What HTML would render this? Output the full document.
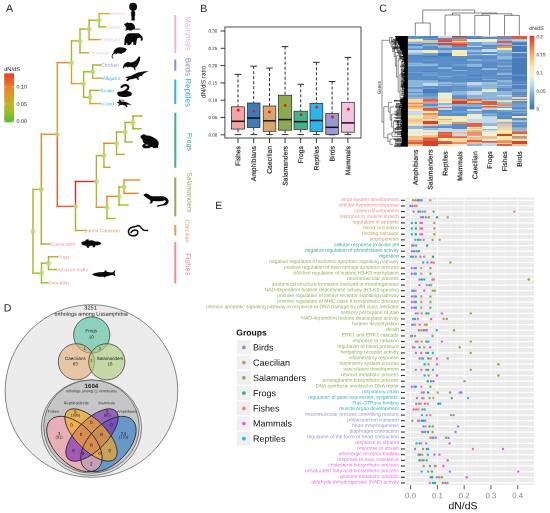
<!DOCTYPE html>
<html lang="en"><head><meta charset="utf-8"><title>Figure</title>
<style>
html,body{margin:0;padding:0;background:#fff;}
svg{display:block;font-family:"Liberation Sans", Arial, sans-serif;text-rendering:geometricPrecision;}
</style></head><body>
<svg width="550" height="513" viewBox="0 0 550 513">
<rect x="0" y="0" width="550" height="513" fill="#ffffff"/>
<g id="panelA">
<text x="6.00" y="11.70" font-size="10.6" fill="#222" transform="rotate(0.03 6.00 11.70)">A</text>
<path d="M99.10 13.60L109.10 13.60" stroke="#c4b224" stroke-width="1.4" stroke-linecap="square" fill="none"/>
<path d="M99.10 26.90L105.10 26.90" stroke="#8fc026" stroke-width="1.4" stroke-linecap="square" fill="none"/>
<path d="M99.10 13.60L99.10 20.20" stroke="#c4b224" stroke-width="1.4" stroke-linecap="square" fill="none"/>
<path d="M99.10 20.20L99.10 26.90" stroke="#8fc026" stroke-width="1.4" stroke-linecap="square" fill="none"/>
<path d="M89.10 20.20L99.10 20.20" stroke="#a3b626" stroke-width="1.4" stroke-linecap="square" fill="none"/>
<path d="M89.10 20.20L89.10 29.10" stroke="#a3b626" stroke-width="1.4" stroke-linecap="square" fill="none"/>
<path d="M89.10 29.10L89.10 39.60" stroke="#d6a024" stroke-width="1.4" stroke-linecap="square" fill="none"/>
<path d="M89.10 39.60L100.00 39.60" stroke="#d6a024" stroke-width="1.4" stroke-linecap="square" fill="none"/>
<path d="M80.00 29.10L89.10 29.10" stroke="#a3b626" stroke-width="1.4" stroke-linecap="square" fill="none"/>
<path d="M80.00 29.10L80.00 52.70" stroke="#a3b626" stroke-width="1.4" stroke-linecap="square" fill="none"/>
<path d="M80.00 52.70L88.20 52.70" stroke="#a3b626" stroke-width="1.4" stroke-linecap="square" fill="none"/>
<path d="M71.50 40.90L80.00 40.90" stroke="#a3b626" stroke-width="1.4" stroke-linecap="square" fill="none"/>
<path d="M71.50 40.90L71.50 62.70" stroke="#a3b626" stroke-width="1.4" stroke-linecap="square" fill="none"/>
<path d="M71.50 62.70L71.50 83.60" stroke="#d6a024" stroke-width="1.4" stroke-linecap="square" fill="none"/>
<path d="M57.30 62.70L71.50 62.70" stroke="#e98a26" stroke-width="1.4" stroke-linecap="square" fill="none"/>
<path d="M57.30 62.70L57.30 134.30" stroke="#de9a27" stroke-width="1.4" stroke-linecap="square" fill="none"/>
<path d="M71.50 83.60L83.60 83.60" stroke="#d6a024" stroke-width="1.4" stroke-linecap="square" fill="none"/>
<path d="M83.60 71.80L83.60 97.30" stroke="#a3b626" stroke-width="1.4" stroke-linecap="square" fill="none"/>
<path d="M83.60 71.80L92.70 71.80" stroke="#a3b626" stroke-width="1.4" stroke-linecap="square" fill="none"/>
<path d="M92.70 65.00L92.70 71.80" stroke="#a3b626" stroke-width="1.4" stroke-linecap="square" fill="none"/>
<path d="M92.70 71.80L92.70 78.20" stroke="#c4b224" stroke-width="1.4" stroke-linecap="square" fill="none"/>
<path d="M92.70 65.00L100.70 65.00" stroke="#a3b626" stroke-width="1.4" stroke-linecap="square" fill="none"/>
<path d="M92.70 78.20L102.00 78.20" stroke="#c4b224" stroke-width="1.4" stroke-linecap="square" fill="none"/>
<path d="M83.60 97.30L90.00 97.30" stroke="#a3b626" stroke-width="1.4" stroke-linecap="square" fill="none"/>
<path d="M90.00 90.40L90.00 97.30" stroke="#a3b626" stroke-width="1.4" stroke-linecap="square" fill="none"/>
<path d="M90.00 97.30L90.00 103.60" stroke="#c4b224" stroke-width="1.4" stroke-linecap="square" fill="none"/>
<path d="M90.00 90.40L99.60 90.40" stroke="#a3b626" stroke-width="1.4" stroke-linecap="square" fill="none"/>
<path d="M90.00 103.60L100.00 103.60" stroke="#c4b224" stroke-width="1.4" stroke-linecap="square" fill="none"/>
<path d="M41.30 134.30L57.30 134.30" stroke="#e98a26" stroke-width="1.4" stroke-linecap="square" fill="none"/>
<path d="M57.30 134.30L57.30 206.40" stroke="#f05c20" stroke-width="1.4" stroke-linecap="square" fill="none"/>
<path d="M57.30 206.40L75.50 206.40" stroke="#f05c20" stroke-width="1.4" stroke-linecap="square" fill="none"/>
<path d="M75.50 181.50L75.50 206.40" stroke="#f02420" stroke-width="1.4" stroke-linecap="square" fill="none"/>
<path d="M75.50 181.50L96.40 181.50" stroke="#f02420" stroke-width="1.4" stroke-linecap="square" fill="none"/>
<path d="M75.50 206.40L75.50 230.50" stroke="#a3b626" stroke-width="1.4" stroke-linecap="square" fill="none"/>
<path d="M75.50 230.50L84.00 230.50" stroke="#a3b626" stroke-width="1.4" stroke-linecap="square" fill="none"/>
<path d="M96.40 155.60L96.40 181.50" stroke="#a3b626" stroke-width="1.4" stroke-linecap="square" fill="none"/>
<path d="M96.40 181.50L96.40 207.30" stroke="#c4b224" stroke-width="1.4" stroke-linecap="square" fill="none"/>
<path d="M96.40 155.60L104.00 155.60" stroke="#a3b626" stroke-width="1.4" stroke-linecap="square" fill="none"/>
<path d="M104.00 143.30L104.00 155.60" stroke="#d6a024" stroke-width="1.4" stroke-linecap="square" fill="none"/>
<path d="M104.00 155.60L104.00 167.40" stroke="#a3b626" stroke-width="1.4" stroke-linecap="square" fill="none"/>
<path d="M104.00 167.40L110.00 167.40" stroke="#a3b626" stroke-width="1.4" stroke-linecap="square" fill="none"/>
<path d="M104.00 143.30L116.50 143.30" stroke="#e98a26" stroke-width="1.4" stroke-linecap="square" fill="none"/>
<path d="M116.50 132.00L116.50 154.40" stroke="#a3b626" stroke-width="1.4" stroke-linecap="square" fill="none"/>
<path d="M116.50 154.40L124.00 154.40" stroke="#a3b626" stroke-width="1.4" stroke-linecap="square" fill="none"/>
<path d="M116.50 132.00L125.20 132.00" stroke="#a3b626" stroke-width="1.4" stroke-linecap="square" fill="none"/>
<path d="M125.20 122.50L125.20 142.00" stroke="#a3b626" stroke-width="1.4" stroke-linecap="square" fill="none"/>
<path d="M125.20 142.00L132.00 142.00" stroke="#a3b626" stroke-width="1.4" stroke-linecap="square" fill="none"/>
<path d="M125.20 122.50L133.00 122.50" stroke="#a3b626" stroke-width="1.4" stroke-linecap="square" fill="none"/>
<path d="M133.00 116.00L133.00 128.80" stroke="#a3b626" stroke-width="1.4" stroke-linecap="square" fill="none"/>
<path d="M133.00 116.00L142.00 116.00" stroke="#a3b626" stroke-width="1.4" stroke-linecap="square" fill="none"/>
<path d="M133.00 128.80L141.00 128.80" stroke="#a3b626" stroke-width="1.4" stroke-linecap="square" fill="none"/>
<path d="M96.40 207.30L107.00 207.30" stroke="#e98a26" stroke-width="1.4" stroke-linecap="square" fill="none"/>
<path d="M107.00 196.40L107.00 207.30" stroke="#e98a26" stroke-width="1.4" stroke-linecap="square" fill="none"/>
<path d="M107.00 207.30L107.00 218.50" stroke="#a3b626" stroke-width="1.4" stroke-linecap="square" fill="none"/>
<path d="M107.00 218.50L115.00 218.50" stroke="#a3b626" stroke-width="1.4" stroke-linecap="square" fill="none"/>
<path d="M107.00 196.40L119.00 196.40" stroke="#e98a26" stroke-width="1.4" stroke-linecap="square" fill="none"/>
<path d="M119.00 187.00L119.00 205.00" stroke="#a3b626" stroke-width="1.4" stroke-linecap="square" fill="none"/>
<path d="M119.00 205.00L128.00 205.00" stroke="#a3b626" stroke-width="1.4" stroke-linecap="square" fill="none"/>
<path d="M119.00 187.00L124.00 187.00" stroke="#a3b626" stroke-width="1.4" stroke-linecap="square" fill="none"/>
<path d="M124.00 180.00L124.00 193.30" stroke="#e98a26" stroke-width="1.4" stroke-linecap="square" fill="none"/>
<path d="M124.00 180.00L139.50 180.00" stroke="#e98a26" stroke-width="1.4" stroke-linecap="square" fill="none"/>
<path d="M124.00 193.30L138.00 193.30" stroke="#e98a26" stroke-width="1.4" stroke-linecap="square" fill="none"/>
<path d="M41.30 134.30L41.30 189.40" stroke="#e98a26" stroke-width="1.4" stroke-linecap="square" fill="none"/>
<path d="M41.30 189.40L41.30 244.00" stroke="#a3b626" stroke-width="1.4" stroke-linecap="square" fill="none"/>
<path d="M41.30 244.00L50.00 244.00" stroke="#a3b626" stroke-width="1.4" stroke-linecap="square" fill="none"/>
<path d="M33.00 189.40L41.30 189.40" stroke="#a3b626" stroke-width="1.4" stroke-linecap="square" fill="none"/>
<path d="M33.00 189.40L33.00 273.20" stroke="#a3b626" stroke-width="1.4" stroke-linecap="square" fill="none"/>
<path d="M33.00 273.20L41.50 273.20" stroke="#a3b626" stroke-width="1.4" stroke-linecap="square" fill="none"/>
<path d="M41.50 263.20L41.50 282.80" stroke="#8fc026" stroke-width="1.4" stroke-linecap="square" fill="none"/>
<path d="M41.50 282.80L48.00 282.80" stroke="#8fc026" stroke-width="1.4" stroke-linecap="square" fill="none"/>
<path d="M41.50 263.20L48.50 263.20" stroke="#8fc026" stroke-width="1.4" stroke-linecap="square" fill="none"/>
<path d="M48.50 256.80L48.50 269.50" stroke="#a3b626" stroke-width="1.4" stroke-linecap="square" fill="none"/>
<path d="M48.50 256.80L57.50 256.80" stroke="#a3b626" stroke-width="1.4" stroke-linecap="square" fill="none"/>
<path d="M48.50 269.50L56.50 269.50" stroke="#8fc026" stroke-width="1.4" stroke-linecap="square" fill="none"/>
<circle cx="99.10" cy="20.20" r="2.60" fill="#b9dd7c" fill-opacity="0.75"/>
<circle cx="89.10" cy="29.10" r="2.60" fill="#b9dd7c" fill-opacity="0.75"/>
<circle cx="80.00" cy="40.90" r="2.60" fill="#b9dd7c" fill-opacity="0.75"/>
<circle cx="71.50" cy="62.70" r="2.60" fill="#b9dd7c" fill-opacity="0.75"/>
<circle cx="92.70" cy="71.80" r="2.60" fill="#b9dd7c" fill-opacity="0.75"/>
<circle cx="83.60" cy="83.60" r="2.60" fill="#b9dd7c" fill-opacity="0.75"/>
<circle cx="90.00" cy="97.30" r="2.60" fill="#b9dd7c" fill-opacity="0.75"/>
<circle cx="57.30" cy="134.30" r="2.60" fill="#b9dd7c" fill-opacity="0.75"/>
<circle cx="133.00" cy="122.50" r="2.60" fill="#b9dd7c" fill-opacity="0.75"/>
<circle cx="125.20" cy="132.00" r="2.60" fill="#b9dd7c" fill-opacity="0.75"/>
<circle cx="116.50" cy="143.30" r="2.60" fill="#b9dd7c" fill-opacity="0.75"/>
<circle cx="104.00" cy="155.60" r="2.60" fill="#b9dd7c" fill-opacity="0.75"/>
<circle cx="96.40" cy="181.50" r="2.60" fill="#b9dd7c" fill-opacity="0.75"/>
<circle cx="124.00" cy="187.00" r="2.60" fill="#b9dd7c" fill-opacity="0.75"/>
<circle cx="119.00" cy="196.40" r="2.60" fill="#b9dd7c" fill-opacity="0.75"/>
<circle cx="107.00" cy="207.30" r="2.60" fill="#b9dd7c" fill-opacity="0.75"/>
<circle cx="75.50" cy="206.40" r="2.60" fill="#b9dd7c" fill-opacity="0.75"/>
<circle cx="41.30" cy="189.40" r="2.60" fill="#b9dd7c" fill-opacity="0.75"/>
<circle cx="33.00" cy="231.30" r="2.60" fill="#b9dd7c" fill-opacity="0.75"/>
<circle cx="41.50" cy="273.20" r="2.60" fill="#b9dd7c" fill-opacity="0.75"/>
<circle cx="48.50" cy="263.20" r="2.60" fill="#b9dd7c" fill-opacity="0.75"/>
<text x="110.20" y="15.35" font-size="4.9" fill="#ebcbe8" transform="rotate(0.03 110.20 15.35)">Human</text>
<text x="105.80" y="28.65" font-size="4.9" fill="#ebcbe8" transform="rotate(0.03 105.80 28.65)">Mouse</text>
<text x="100.70" y="41.35" font-size="4.9" fill="#ebcbe8" transform="rotate(0.03 100.70 41.35)">Elephant</text>
<text x="88.90" y="54.45" font-size="4.9" fill="#ebcbe8" transform="rotate(0.03 88.90 54.45)">Opossum</text>
<text x="101.20" y="66.75" font-size="4.9" fill="#8d8fd0" transform="rotate(0.03 101.20 66.75)">Chicken</text>
<text x="102.60" y="79.95" font-size="4.9" fill="#3fb4d6" transform="rotate(0.03 102.60 79.95)">Alligator</text>
<text x="100.20" y="92.15" font-size="4.9" fill="#3fb4d6" transform="rotate(0.03 100.20 92.15)">Snake</text>
<text x="100.60" y="105.35" font-size="4.9" fill="#3fb4d6" transform="rotate(0.03 100.60 105.35)">Lizard</text>
<text x="84.40" y="232.25" font-size="4.9" fill="#c9a070" transform="rotate(0.03 84.40 232.25)">Banna Caecilian</text>
<text x="50.60" y="245.75" font-size="4.9" fill="#ee9398" transform="rotate(0.03 50.60 245.75)">Coelacanth</text>
<text x="58.20" y="258.55" font-size="4.9" fill="#ee9398" transform="rotate(0.03 58.20 258.55)">Fugu</text>
<text x="57.20" y="271.25" font-size="4.9" fill="#ee9398" transform="rotate(0.03 57.20 271.25)">Amazon molly</text>
<text x="48.60" y="284.55" font-size="4.9" fill="#ee9398" transform="rotate(0.03 48.60 284.55)">Zebrafish</text>
<defs><linearGradient id="gA" x1="0" y1="0" x2="0" y2="1"><stop offset="0" stop-color="#ef3a22"/><stop offset="0.3" stop-color="#e8862a"/><stop offset="0.62" stop-color="#c2b224"/><stop offset="0.82" stop-color="#8fc02a"/><stop offset="1" stop-color="#5cb531"/></linearGradient></defs>
<text x="4.20" y="70.90" font-size="5.7" fill="#222" transform="rotate(0.03 4.20 70.90)">dN/dS</text>
<rect x="4.20" y="73.40" width="9.80" height="48.90" fill="url(#gA)"/>
<line x1="4.20" y1="86.60" x2="6.10" y2="86.60" stroke="#ffffff" stroke-width="0.5"/>
<line x1="12.10" y1="86.60" x2="14.00" y2="86.60" stroke="#ffffff" stroke-width="0.5"/>
<text x="16.60" y="88.50" font-size="5.4" fill="#222" transform="rotate(0.03 16.60 88.50)">0.10</text>
<line x1="4.20" y1="104.00" x2="6.10" y2="104.00" stroke="#ffffff" stroke-width="0.5"/>
<line x1="12.10" y1="104.00" x2="14.00" y2="104.00" stroke="#ffffff" stroke-width="0.5"/>
<text x="16.60" y="105.90" font-size="5.4" fill="#222" transform="rotate(0.03 16.60 105.90)">0.05</text>
<line x1="4.20" y1="121.00" x2="6.10" y2="121.00" stroke="#ffffff" stroke-width="0.5"/>
<line x1="12.10" y1="121.00" x2="14.00" y2="121.00" stroke="#ffffff" stroke-width="0.5"/>
<text x="16.60" y="122.90" font-size="5.4" fill="#222" transform="rotate(0.03 16.60 122.90)">0.00</text>
<line x1="175.30" y1="15.00" x2="175.30" y2="53.00" stroke="#e6b9dc" stroke-width="2.0"/>
<text x="185.40" y="16.20" font-size="8.0" fill="#e6b9dc" transform="rotate(90.03 185.40 16.20)">Mammals</text>
<line x1="175.30" y1="59.50" x2="175.30" y2="70.80" stroke="#8a8ccf" stroke-width="2.0"/>
<text x="185.40" y="57.80" font-size="8.0" fill="#8a8ccf" transform="rotate(90.03 185.40 57.80)">Birds</text>
<line x1="175.30" y1="79.50" x2="175.30" y2="104.00" stroke="#33b1d3" stroke-width="2.0"/>
<text x="185.40" y="78.20" font-size="8.0" fill="#33b1d3" transform="rotate(90.03 185.40 78.20)">Reptiles</text>
<line x1="175.30" y1="112.80" x2="175.30" y2="167.80" stroke="#3fb18a" stroke-width="2.0"/>
<text x="187.20" y="132.90" font-size="7.0" fill="#3fb18a" transform="rotate(90.03 187.20 132.90)">Frogs</text>
<line x1="175.30" y1="177.40" x2="175.30" y2="216.40" stroke="#93ab57" stroke-width="2.0"/>
<text x="187.20" y="172.30" font-size="6.8" fill="#93ab57" transform="rotate(90.03 187.20 172.30)">Salamanders</text>
<line x1="175.30" y1="224.80" x2="175.30" y2="235.60" stroke="#cfa26f" stroke-width="2.0"/>
<text x="185.50" y="219.60" font-size="5.6" fill="#cfa26f" transform="rotate(90.03 185.50 219.60)">Caecilian</text>
<line x1="175.30" y1="242.00" x2="175.30" y2="283.50" stroke="#ee8d96" stroke-width="2.0"/>
<text x="185.40" y="253.20" font-size="7.6" fill="#ee8d96" transform="rotate(90.03 185.40 253.20)">Fishes</text>
<g fill="#0a0a0a">
<circle cx="133.10" cy="6.70" r="3.95" fill="#0a0a0a"/>
<path d="M131.9 10.2 L134.3 10.2 L135.0 12.2 L135.0 15.6 L134.7 16.0 L134.7 19.6 L135.0 20.6 L131.2 20.6 L131.5 19.6 L131.5 16.0 L131.2 15.6 L131.2 12.2 Z"/>
<path d="M130.3 12.0 L135.9 12.0 L135.9 15.6 L130.3 15.6 Z" fill-opacity="0.18"/>
<path d="M123.9 24.0 L126.2 23.2 L127.4 22.3 L128.6 23.0 Q130.4 22.6 131.9 23.1 Q134.4 24.2 135.0 26.8 Q135.3 28.2 134.8 28.8 L138.6 28.7 L141.8 29.1 L138.0 29.5 L133.0 29.6 L131.5 30.6 L128.5 30.6 L129.3 29.8 L127.0 30.0 L125.6 30.8 L125.2 30.0 L126.6 29.0 L125.4 28.3 L126.4 27.2 L125.2 26.2 Z"/>
<path d="M125.5 36.2 Q126.6 33.6 129.1 33.3 L138.5 33.3 Q140.2 33.8 140.9 35.1 Q142.6 36.4 142.8 38.4 Q143.0 39.8 142.2 40.5 Q141.2 41.0 140.4 40.2 L140.9 39.4 Q141.4 38.4 140.0 37.4 Q138.6 38.4 137.1 38.2 L136.0 44.9 L133.5 44.9 L133.1 41.6 L131.8 42.4 L131.2 43.8 L129.8 44.9 L127.5 45.3 L127.1 42.4 L126.4 43.2 L126.2 44.9 L124.3 44.9 L124.6 38.7 Z"/>
<path d="M126.9 49.6 Q125.4 47.2 122.4 47.4 Q117.8 47.0 115.6 48.8 Q113.2 50.6 113.4 53.0 Q111.6 54.2 111.6 56.4 Q111.8 58.4 113.4 58.8 L113.6 58.2 Q112.4 57.6 112.4 56.2 Q112.6 54.6 113.9 54.0 L115.2 53.6 L116.6 54.2 L117.2 53.2 L119.6 53.4 L121.6 54.0 L122.0 53.0 L123.6 52.8 Q125.6 52.0 126.9 49.6 Z"/>
<path d="M122.9 68.2 Q123.0 65.8 124.0 64.6 Q125.0 62.8 126.8 62.3 Q128.8 61.8 130.9 62.6 Q133.4 62.4 135.3 60.8 Q136.8 59.4 137.8 57.9 L138.6 56.8 L139.4 56.3 L140.1 56.9 L140.5 57.7 L140.0 58.6 L140.0 59.9 Q139.4 61.8 138.5 63.5 Q137.8 65.2 136.7 66.4 L135.1 67.7 L135.7 70.4 L134.2 69.6 L133.6 67.6 Q131.8 67.4 130.2 66.7 L128.6 66.9 L127.6 67.6 L126.6 66.6 L125.8 66.5 L125.2 67.8 L124.5 66.8 L123.6 68.4 Z"/>
<path d="M148.7 71.3 L144.6 71.2 L138.0 72.4 L133.6 74.6 L130.6 76.0 L127.0 76.8 L125.0 78.0 L128.0 78.2 L126.0 80.6 L127.6 81.3 L129.6 79.6 L133.0 79.0 L136.2 78.0 L137.4 79.6 L139.2 80.2 L138.4 78.6 L138.6 77.0 L141.0 75.8 L142.4 76.4 L142.2 75.0 L144.6 73.0 Z"/>
<path d="M121.6 87.0 Q124.6 83.9 127.9 86.0 Q129.6 88.6 124.6 91.4" stroke="#0a0a0a" stroke-width="2.2" fill="none" stroke-linecap="round"/>
<path d="M117.0 92.8 Q118.4 91.2 121.0 91.4 Q124.0 90.2 127.6 91.0 Q130.8 91.4 131.8 93.2 Q132.2 95.2 130.4 96.0 Q127.0 97.2 123.0 96.9 Q119.4 96.8 118.0 95.4 Q117.2 94.2 117.0 92.8 Z"/>
<path d="M116.8 102.2 L119.6 101.6 L118.6 100.2 L119.4 99.6 L121.4 101.4 L124.6 101.8 L127.8 102.8 L132.0 105.2 L128.4 104.6 L126.4 104.8 L127.4 106.4 L126.6 107.4 L125.0 105.6 L122.2 104.8 L120.4 105.0 L118.6 106.0 L118.2 105.2 L119.8 103.8 L118.0 103.2 Z"/>
<path d="M119.5 100.2 L121.6 100.0 L124.4 100.6" stroke="#0a0a0a" stroke-width="0.6" fill="none"/>
<path d="M140.2 137.0 Q141.2 134.6 143.6 134.2 L145.2 134.4 L146.2 135.6 Q149.6 135.4 152.6 137.0 Q156.6 138.6 158.4 141.6 Q159.4 144.6 158.0 146.6 L158.4 147.8 L153.0 148.0 L152.4 146.8 L149.6 147.6 L149.8 148.2 L144.6 148.2 L143.0 147.6 L142.0 146.2 L143.0 144.4 L144.8 143.6 L143.2 142.4 L142.6 139.8 Z"/>
<path d="M144.6 144.9 Q146.6 144.1 148.6 144.9 Q146.6 145.9 144.6 144.9Z" fill="#fff"/>
<path d="M143.3 195.1 Q144.4 193.4 146.2 193.5 Q148.6 194.0 150.5 195.8 Q153.4 196.6 156.4 196.2 L162.9 196.2 Q165.6 196.6 167.3 198.4 Q168.8 199.8 168.7 201.3 Q168.6 203.0 167.3 204.2 Q165.8 205.4 163.6 205.6 L157.1 206.7 L157.5 205.3 L162.9 204.2 Q165.2 203.4 165.8 201.6 Q165.8 200.6 164.7 200.2 Q162.4 201.0 160.0 201.3 L155.6 201.3 L152.9 200.9 L152.4 203.1 L149.8 203.8 L149.5 202.7 L150.9 202.0 L149.8 199.8 Q148.0 199.2 146.9 198.0 L144.4 196.2 Z"/>
</g>
<path d="M130.9 232.5 Q132.4 230.2 134.5 229.9 Q137.4 229.8 137.8 231.7 Q138.0 234.2 136.4 235.0 Q134.4 236.2 132.0 235.7 Q129.0 235.0 128.6 233.2 Q128.0 230.6 129.1 229.2 Q130.4 227.4 133.1 227.0 Q135.8 226.6 138.2 225.5 Q139.8 225.4 141.1 227.7 Q142.6 230.0 144.0 230.3 L147.6 230.4" stroke="#0a0a0a" stroke-width="1.5" fill="none" stroke-linecap="round" stroke-linejoin="round"/>
<g fill="#0a0a0a">
<path d="M81.2 242.6 L83.0 241.4 L85.0 241.2 L86.4 239.6 L88.6 239.2 L88.8 240.8 L91.0 240.2 L92.8 240.6 L95.4 241.4 L98.0 241.6 L100.2 242.2 L101.4 243.4 L100.2 244.6 L98.0 245.2 L95.4 245.4 L94.6 247.4 L92.8 247.0 L92.4 245.6 L89.6 246.0 L88.6 248.0 L86.8 247.4 L86.6 245.8 L84.0 245.4 L82.0 244.6 Z"/>
<path d="M91.9 274.4 Q94.5 272.5 99.0 272.3 L104.0 271.9 L105.6 270.0 L107.0 271.7 L111.0 272.6 L113.0 272.3 L115.4 269.5 L114.6 273.4 L115.5 276.5 L112.6 274.8 L110.0 275.4 L106.0 276.6 L104.6 277.5 L103.6 276.8 L99.0 276.8 Q94.6 276.4 91.9 274.4 Z"/>
</g>
</g>
<g id="panelB">
<text x="200.20" y="12.00" font-size="10.5" fill="#222" transform="rotate(0.03 200.20 12.00)">B</text>
<rect x="224.90" y="27.00" width="136.10" height="111.00" fill="none" stroke="#444" stroke-width="0.95"/>
<line x1="220.50" y1="31.00" x2="224.90" y2="31.00" stroke="#222" stroke-width="0.9"/>
<text x="217.40" y="32.60" font-size="4.55" fill="#222" text-anchor="end" transform="rotate(0.03 217.40 32.60)">0.30</text>
<line x1="220.50" y1="48.30" x2="224.90" y2="48.30" stroke="#222" stroke-width="0.9"/>
<text x="217.40" y="49.90" font-size="4.55" fill="#222" text-anchor="end" transform="rotate(0.03 217.40 49.90)">0.25</text>
<line x1="220.50" y1="65.60" x2="224.90" y2="65.60" stroke="#222" stroke-width="0.9"/>
<text x="217.40" y="67.20" font-size="4.55" fill="#222" text-anchor="end" transform="rotate(0.03 217.40 67.20)">0.20</text>
<line x1="220.50" y1="82.90" x2="224.90" y2="82.90" stroke="#222" stroke-width="0.9"/>
<text x="217.40" y="84.50" font-size="4.55" fill="#222" text-anchor="end" transform="rotate(0.03 217.40 84.50)">0.15</text>
<line x1="220.50" y1="100.20" x2="224.90" y2="100.20" stroke="#222" stroke-width="0.9"/>
<text x="217.40" y="101.80" font-size="4.55" fill="#222" text-anchor="end" transform="rotate(0.03 217.40 101.80)">0.10</text>
<line x1="220.50" y1="117.50" x2="224.90" y2="117.50" stroke="#222" stroke-width="0.9"/>
<text x="217.40" y="119.10" font-size="4.55" fill="#222" text-anchor="end" transform="rotate(0.03 217.40 119.10)">0.05</text>
<line x1="220.50" y1="134.80" x2="224.90" y2="134.80" stroke="#222" stroke-width="0.9"/>
<text x="217.40" y="136.40" font-size="4.55" fill="#222" text-anchor="end" transform="rotate(0.03 217.40 136.40)">0.00</text>
<text x="205.50" y="81.80" font-size="6.44" fill="#222" text-anchor="middle" transform="rotate(-89.97 205.50 81.80)">dN/dS ratio</text>
<line x1="238.00" y1="74.40" x2="238.00" y2="106.80" stroke="#222" stroke-width="0.95" stroke-dasharray="3 2"/>
<line x1="238.00" y1="129.10" x2="238.00" y2="134.60" stroke="#222" stroke-width="0.95" stroke-dasharray="3 2"/>
<line x1="234.70" y1="74.40" x2="241.30" y2="74.40" stroke="#222" stroke-width="0.95"/>
<line x1="234.70" y1="134.60" x2="241.30" y2="134.60" stroke="#222" stroke-width="0.95"/>
<rect x="231.40" y="106.80" width="13.20" height="22.30" fill="#f5a3a6" stroke="#222" stroke-width="0.7"/>
<line x1="231.40" y1="121.30" x2="244.60" y2="121.30" stroke="#111" stroke-width="1.5"/>
<circle cx="238.20" cy="110.20" r="1.45" fill="#f21a1a"/>
<line x1="238.00" y1="138.00" x2="238.00" y2="143.00" stroke="#222" stroke-width="0.9"/>
<text x="240.35" y="146.00" font-size="6.75" fill="#1a1a1a" text-anchor="end" transform="rotate(-89.97 240.35 146.00)" stroke="#1a1a1a" stroke-width="0.15">Fishes</text>
<line x1="253.70" y1="66.20" x2="253.70" y2="103.00" stroke="#222" stroke-width="0.95" stroke-dasharray="3 2"/>
<line x1="253.70" y1="127.50" x2="253.70" y2="134.60" stroke="#222" stroke-width="0.95" stroke-dasharray="3 2"/>
<line x1="250.40" y1="66.20" x2="257.00" y2="66.20" stroke="#222" stroke-width="0.95"/>
<line x1="250.40" y1="134.60" x2="257.00" y2="134.60" stroke="#222" stroke-width="0.95"/>
<rect x="247.30" y="103.00" width="12.70" height="24.50" fill="#3c7db7" stroke="#222" stroke-width="0.7"/>
<line x1="247.30" y1="118.00" x2="260.00" y2="118.00" stroke="#111" stroke-width="1.5"/>
<circle cx="253.80" cy="111.20" r="1.45" fill="#f21a1a"/>
<line x1="253.70" y1="138.00" x2="253.70" y2="143.00" stroke="#222" stroke-width="0.9"/>
<text x="256.05" y="146.00" font-size="6.75" fill="#1a1a1a" text-anchor="end" transform="rotate(-89.97 256.05 146.00)" stroke="#1a1a1a" stroke-width="0.15">Amphibians</text>
<line x1="269.50" y1="68.10" x2="269.50" y2="106.00" stroke="#222" stroke-width="0.95" stroke-dasharray="3 2"/>
<line x1="269.50" y1="131.30" x2="269.50" y2="134.60" stroke="#222" stroke-width="0.95" stroke-dasharray="3 2"/>
<line x1="266.20" y1="68.10" x2="272.80" y2="68.10" stroke="#222" stroke-width="0.95"/>
<line x1="266.20" y1="134.60" x2="272.80" y2="134.60" stroke="#222" stroke-width="0.95"/>
<rect x="263.20" y="106.00" width="12.60" height="25.30" fill="#d8a76c" stroke="#222" stroke-width="0.7"/>
<line x1="263.20" y1="120.80" x2="275.80" y2="120.80" stroke="#111" stroke-width="1.5"/>
<circle cx="269.40" cy="112.00" r="1.45" fill="#f21a1a"/>
<line x1="269.50" y1="138.00" x2="269.50" y2="143.00" stroke="#222" stroke-width="0.9"/>
<text x="271.85" y="146.00" font-size="6.75" fill="#1a1a1a" text-anchor="end" transform="rotate(-89.97 271.85 146.00)" stroke="#1a1a1a" stroke-width="0.15">Caecilian</text>
<line x1="285.10" y1="46.60" x2="285.10" y2="95.20" stroke="#222" stroke-width="0.95" stroke-dasharray="3 2"/>
<line x1="285.10" y1="130.20" x2="285.10" y2="134.60" stroke="#222" stroke-width="0.95" stroke-dasharray="3 2"/>
<line x1="281.80" y1="46.60" x2="288.40" y2="46.60" stroke="#222" stroke-width="0.95"/>
<line x1="281.80" y1="134.60" x2="288.40" y2="134.60" stroke="#222" stroke-width="0.95"/>
<rect x="278.50" y="95.20" width="13.20" height="35.00" fill="#8caa50" stroke="#222" stroke-width="0.7"/>
<line x1="278.50" y1="119.60" x2="291.70" y2="119.60" stroke="#111" stroke-width="1.5"/>
<circle cx="285.20" cy="105.50" r="1.45" fill="#f21a1a"/>
<line x1="285.10" y1="138.00" x2="285.10" y2="143.00" stroke="#222" stroke-width="0.9"/>
<text x="287.45" y="146.00" font-size="6.75" fill="#1a1a1a" text-anchor="end" transform="rotate(-89.97 287.45 146.00)" stroke="#1a1a1a" stroke-width="0.15">Salamanders</text>
<line x1="300.70" y1="84.30" x2="300.70" y2="111.20" stroke="#222" stroke-width="0.95" stroke-dasharray="3 2"/>
<line x1="300.70" y1="129.40" x2="300.70" y2="134.60" stroke="#222" stroke-width="0.95" stroke-dasharray="3 2"/>
<line x1="297.40" y1="84.30" x2="304.00" y2="84.30" stroke="#222" stroke-width="0.95"/>
<line x1="297.40" y1="134.60" x2="304.00" y2="134.60" stroke="#222" stroke-width="0.95"/>
<rect x="294.00" y="111.20" width="13.30" height="18.20" fill="#3fb58a" stroke="#222" stroke-width="0.7"/>
<line x1="294.00" y1="121.70" x2="307.30" y2="121.70" stroke="#111" stroke-width="1.5"/>
<circle cx="301.00" cy="114.70" r="1.45" fill="#f21a1a"/>
<line x1="300.70" y1="138.00" x2="300.70" y2="143.00" stroke="#222" stroke-width="0.9"/>
<text x="303.05" y="146.00" font-size="6.75" fill="#1a1a1a" text-anchor="end" transform="rotate(-89.97 303.05 146.00)" stroke="#1a1a1a" stroke-width="0.15">Frogs</text>
<line x1="316.40" y1="62.30" x2="316.40" y2="103.50" stroke="#222" stroke-width="0.95" stroke-dasharray="3 2"/>
<line x1="316.40" y1="131.50" x2="316.40" y2="134.60" stroke="#222" stroke-width="0.95" stroke-dasharray="3 2"/>
<line x1="313.10" y1="62.30" x2="319.70" y2="62.30" stroke="#222" stroke-width="0.95"/>
<line x1="313.10" y1="134.60" x2="319.70" y2="134.60" stroke="#222" stroke-width="0.95"/>
<rect x="310.00" y="103.50" width="12.80" height="28.00" fill="#2bb5e9" stroke="#222" stroke-width="0.7"/>
<line x1="310.00" y1="120.50" x2="322.80" y2="120.50" stroke="#111" stroke-width="1.5"/>
<circle cx="316.70" cy="107.20" r="1.45" fill="#f21a1a"/>
<line x1="316.40" y1="138.00" x2="316.40" y2="143.00" stroke="#222" stroke-width="0.9"/>
<text x="318.75" y="146.00" font-size="6.75" fill="#1a1a1a" text-anchor="end" transform="rotate(-89.97 318.75 146.00)" stroke="#1a1a1a" stroke-width="0.15">Reptiles</text>
<line x1="332.10" y1="81.50" x2="332.10" y2="113.50" stroke="#222" stroke-width="0.95" stroke-dasharray="3 2"/>
<line x1="332.10" y1="134.50" x2="332.10" y2="134.80" stroke="#222" stroke-width="0.95" stroke-dasharray="3 2"/>
<line x1="328.80" y1="81.50" x2="335.40" y2="81.50" stroke="#222" stroke-width="0.95"/>
<line x1="328.80" y1="134.80" x2="335.40" y2="134.80" stroke="#222" stroke-width="0.95"/>
<rect x="325.80" y="113.50" width="12.60" height="21.00" fill="#9c98d3" stroke="#222" stroke-width="0.7"/>
<line x1="325.80" y1="127.30" x2="338.40" y2="127.30" stroke="#111" stroke-width="1.5"/>
<circle cx="332.40" cy="117.00" r="1.45" fill="#f21a1a"/>
<line x1="332.10" y1="138.00" x2="332.10" y2="143.00" stroke="#222" stroke-width="0.9"/>
<text x="334.45" y="146.00" font-size="6.75" fill="#1a1a1a" text-anchor="end" transform="rotate(-89.97 334.45 146.00)" stroke="#1a1a1a" stroke-width="0.15">Birds</text>
<line x1="347.90" y1="57.40" x2="347.90" y2="102.30" stroke="#222" stroke-width="0.95" stroke-dasharray="3 2"/>
<line x1="347.90" y1="132.20" x2="347.90" y2="134.60" stroke="#222" stroke-width="0.95" stroke-dasharray="3 2"/>
<line x1="344.60" y1="57.40" x2="351.20" y2="57.40" stroke="#222" stroke-width="0.95"/>
<line x1="344.60" y1="134.60" x2="351.20" y2="134.60" stroke="#222" stroke-width="0.95"/>
<rect x="341.50" y="102.30" width="12.80" height="29.90" fill="#f1c4e2" stroke="#222" stroke-width="0.7"/>
<line x1="341.50" y1="122.90" x2="354.30" y2="122.90" stroke="#111" stroke-width="1.5"/>
<circle cx="348.30" cy="109.30" r="1.45" fill="#f21a1a"/>
<line x1="347.90" y1="138.00" x2="347.90" y2="143.00" stroke="#222" stroke-width="0.9"/>
<text x="350.25" y="146.00" font-size="6.75" fill="#1a1a1a" text-anchor="end" transform="rotate(-89.97 350.25 146.00)" stroke="#1a1a1a" stroke-width="0.15">Mammals</text>
</g>
<g id="panelC">
<text x="379.30" y="11.80" font-size="10.5" fill="#222" transform="rotate(0.03 379.30 11.80)">C</text>
<g shape-rendering="crispEdges">
<rect x="407.90" y="35.91" width="14.91" height="2.99" fill="#5b8ec7"/>
<rect x="407.90" y="38.82" width="14.91" height="3.57" fill="#fbe9a8"/>
<rect x="407.90" y="42.31" width="14.91" height="1.83" fill="#8db6d9"/>
<rect x="407.90" y="44.06" width="14.91" height="1.83" fill="#5b8ec7"/>
<rect x="407.90" y="45.81" width="14.91" height="1.83" fill="#8db6d9"/>
<rect x="407.90" y="47.55" width="14.91" height="2.99" fill="#5b8ec7"/>
<rect x="407.90" y="50.46" width="14.91" height="2.99" fill="#c0d8e9"/>
<rect x="407.90" y="53.37" width="14.91" height="1.83" fill="#8db6d9"/>
<rect x="407.90" y="55.12" width="14.91" height="8.23" fill="#5b8ec7"/>
<rect x="407.90" y="63.27" width="14.91" height="2.41" fill="#8db6d9"/>
<rect x="407.90" y="65.60" width="14.91" height="4.74" fill="#5b8ec7"/>
<rect x="407.90" y="70.00" width="14.91" height="9.98" fill="#5b8ec7"/>
<rect x="407.90" y="79.90" width="14.91" height="2.41" fill="#8db6d9"/>
<rect x="407.90" y="82.22" width="14.91" height="4.74" fill="#8db6d9"/>
<rect x="407.90" y="86.88" width="14.91" height="1.83" fill="#5b8ec7"/>
<rect x="407.90" y="88.63" width="14.91" height="2.99" fill="#8db6d9"/>
<rect x="407.90" y="91.54" width="14.91" height="1.83" fill="#5b8ec7"/>
<rect x="407.90" y="93.28" width="14.91" height="1.83" fill="#8db6d9"/>
<rect x="407.90" y="95.03" width="14.91" height="2.06" fill="#74a1cf"/>
<rect x="407.90" y="97.01" width="14.91" height="2.18" fill="#8db6d9"/>
<rect x="407.90" y="99.10" width="14.91" height="2.99" fill="#f9d596"/>
<rect x="407.90" y="102.01" width="14.91" height="1.24" fill="#f8bc86"/>
<rect x="407.90" y="103.18" width="14.91" height="1.24" fill="#e35a3c"/>
<rect x="407.90" y="104.34" width="14.91" height="1.83" fill="#f8bc86"/>
<rect x="407.90" y="106.09" width="14.91" height="1.83" fill="#f08c5a"/>
<rect x="407.90" y="107.83" width="14.91" height="1.24" fill="#eceed6"/>
<rect x="407.90" y="109.00" width="14.91" height="1.13" fill="#f08c5a"/>
<rect x="407.90" y="107.00" width="14.91" height="1.83" fill="#f8bc86"/>
<rect x="407.90" y="108.75" width="14.91" height="2.41" fill="#fbe9a8"/>
<rect x="407.90" y="111.07" width="14.91" height="4.15" fill="#c0d8e9"/>
<rect x="407.90" y="115.15" width="14.91" height="4.74" fill="#fbe9a8"/>
<rect x="407.90" y="119.81" width="14.91" height="1.83" fill="#f8bc86"/>
<rect x="407.90" y="121.55" width="14.91" height="2.99" fill="#f9d596"/>
<rect x="407.90" y="124.46" width="14.91" height="1.24" fill="#eceed6"/>
<rect x="407.90" y="125.63" width="14.91" height="2.99" fill="#8db6d9"/>
<rect x="407.90" y="128.54" width="14.91" height="1.83" fill="#eceed6"/>
<rect x="407.90" y="130.28" width="14.91" height="5.90" fill="#eceed6"/>
<rect x="407.90" y="136.10" width="14.91" height="1.83" fill="#f8bc86"/>
<rect x="407.90" y="137.85" width="14.91" height="2.41" fill="#f8bc86"/>
<rect x="407.90" y="140.18" width="14.91" height="1.83" fill="#f08c5a"/>
<rect x="407.90" y="141.92" width="14.91" height="2.41" fill="#e35a3c"/>
<rect x="407.90" y="144.25" width="14.91" height="2.18" fill="#f8bc86"/>
<rect x="422.76" y="35.91" width="14.91" height="2.41" fill="#477cbc"/>
<rect x="422.76" y="38.24" width="14.91" height="1.83" fill="#5b8ec7"/>
<rect x="422.76" y="39.98" width="14.91" height="2.99" fill="#d6c9a2"/>
<rect x="422.76" y="42.90" width="14.91" height="1.83" fill="#5b8ec7"/>
<rect x="422.76" y="44.64" width="14.91" height="1.83" fill="#8db6d9"/>
<rect x="422.76" y="46.39" width="14.91" height="4.15" fill="#5b8ec7"/>
<rect x="422.76" y="50.46" width="14.91" height="2.64" fill="#fbe9a8"/>
<rect x="422.76" y="53.02" width="14.91" height="2.18" fill="#74a1cf"/>
<rect x="422.76" y="55.12" width="14.91" height="7.65" fill="#5b8ec7"/>
<rect x="422.76" y="62.69" width="14.91" height="2.99" fill="#8db6d9"/>
<rect x="422.76" y="65.60" width="14.91" height="4.74" fill="#5b8ec7"/>
<rect x="422.76" y="70.00" width="14.91" height="9.98" fill="#5b8ec7"/>
<rect x="422.76" y="79.90" width="14.91" height="2.99" fill="#8db6d9"/>
<rect x="422.76" y="82.81" width="14.91" height="2.99" fill="#c0d8e9"/>
<rect x="422.76" y="85.72" width="14.91" height="3.57" fill="#5b8ec7"/>
<rect x="422.76" y="89.21" width="14.91" height="4.15" fill="#477cbc"/>
<rect x="422.76" y="93.28" width="14.91" height="2.99" fill="#5b8ec7"/>
<rect x="422.76" y="96.19" width="14.91" height="2.99" fill="#74a1cf"/>
<rect x="422.76" y="99.10" width="14.91" height="2.64" fill="#e35a3c"/>
<rect x="422.76" y="101.66" width="14.91" height="1.59" fill="#8db6d9"/>
<rect x="422.76" y="103.18" width="14.91" height="1.24" fill="#f08c5a"/>
<rect x="422.76" y="104.34" width="14.91" height="1.83" fill="#5b8ec7"/>
<rect x="422.76" y="106.09" width="14.91" height="1.83" fill="#8db6d9"/>
<rect x="422.76" y="107.83" width="14.91" height="2.29" fill="#e35a3c"/>
<rect x="422.76" y="107.00" width="14.91" height="1.24" fill="#8db6d9"/>
<rect x="422.76" y="108.16" width="14.91" height="2.99" fill="#e35a3c"/>
<rect x="422.76" y="111.07" width="14.91" height="2.41" fill="#fbe9a8"/>
<rect x="422.76" y="113.40" width="14.91" height="1.83" fill="#f08c5a"/>
<rect x="422.76" y="115.15" width="14.91" height="1.83" fill="#f8bc86"/>
<rect x="422.76" y="116.90" width="14.91" height="4.15" fill="#f9d596"/>
<rect x="422.76" y="120.97" width="14.91" height="3.57" fill="#d9412f"/>
<rect x="422.76" y="124.46" width="14.91" height="1.24" fill="#f8bc86"/>
<rect x="422.76" y="125.63" width="14.91" height="2.41" fill="#5b8ec7"/>
<rect x="422.76" y="127.95" width="14.91" height="2.41" fill="#8db6d9"/>
<rect x="422.76" y="130.28" width="14.91" height="4.74" fill="#eceed6"/>
<rect x="422.76" y="134.94" width="14.91" height="1.83" fill="#f8bc86"/>
<rect x="422.76" y="136.69" width="14.91" height="1.83" fill="#f08c5a"/>
<rect x="422.76" y="138.43" width="14.91" height="2.41" fill="#e35a3c"/>
<rect x="422.76" y="140.76" width="14.91" height="5.67" fill="#d9412f"/>
<rect x="437.62" y="35.91" width="14.91" height="2.41" fill="#c0d8e9"/>
<rect x="437.62" y="38.24" width="14.91" height="1.24" fill="#5b8ec7"/>
<rect x="437.62" y="39.40" width="14.91" height="2.41" fill="#e35a3c"/>
<rect x="437.62" y="41.73" width="14.91" height="1.24" fill="#8db6d9"/>
<rect x="437.62" y="42.90" width="14.91" height="1.83" fill="#d9412f"/>
<rect x="437.62" y="44.64" width="14.91" height="3.57" fill="#8db6d9"/>
<rect x="437.62" y="48.13" width="14.91" height="2.41" fill="#5b8ec7"/>
<rect x="437.62" y="50.46" width="14.91" height="2.99" fill="#8db6d9"/>
<rect x="437.62" y="53.37" width="14.91" height="2.41" fill="#477cbc"/>
<rect x="437.62" y="55.70" width="14.91" height="11.14" fill="#5b8ec7"/>
<rect x="437.62" y="66.76" width="14.91" height="1.83" fill="#8db6d9"/>
<rect x="437.62" y="68.51" width="14.91" height="1.83" fill="#5b8ec7"/>
<rect x="437.62" y="70.00" width="14.91" height="12.30" fill="#5b8ec7"/>
<rect x="437.62" y="82.22" width="14.91" height="4.15" fill="#8db6d9"/>
<rect x="437.62" y="86.30" width="14.91" height="5.90" fill="#5b8ec7"/>
<rect x="437.62" y="92.12" width="14.91" height="1.24" fill="#8db6d9"/>
<rect x="437.62" y="93.28" width="14.91" height="5.90" fill="#eceed6"/>
<rect x="437.62" y="99.10" width="14.91" height="1.83" fill="#f9d596"/>
<rect x="437.62" y="100.85" width="14.91" height="2.41" fill="#eceed6"/>
<rect x="437.62" y="103.18" width="14.91" height="1.83" fill="#8db6d9"/>
<rect x="437.62" y="104.92" width="14.91" height="1.83" fill="#c0d8e9"/>
<rect x="437.62" y="106.67" width="14.91" height="1.83" fill="#e35a3c"/>
<rect x="437.62" y="108.42" width="14.91" height="1.71" fill="#c0d8e9"/>
<rect x="437.62" y="107.00" width="14.91" height="1.24" fill="#e35a3c"/>
<rect x="437.62" y="108.16" width="14.91" height="2.41" fill="#c0d8e9"/>
<rect x="437.62" y="110.49" width="14.91" height="5.32" fill="#5b8ec7"/>
<rect x="437.62" y="115.73" width="14.91" height="2.99" fill="#fbe9a8"/>
<rect x="437.62" y="118.64" width="14.91" height="1.83" fill="#f8bc86"/>
<rect x="437.62" y="120.39" width="14.91" height="4.15" fill="#fbe9a8"/>
<rect x="437.62" y="124.46" width="14.91" height="1.83" fill="#8db6d9"/>
<rect x="437.62" y="126.21" width="14.91" height="1.83" fill="#5b8ec7"/>
<rect x="437.62" y="127.95" width="14.91" height="4.15" fill="#c0d8e9"/>
<rect x="437.62" y="132.03" width="14.91" height="6.48" fill="#e35a3c"/>
<rect x="437.62" y="138.43" width="14.91" height="2.41" fill="#fbe9a8"/>
<rect x="437.62" y="140.76" width="14.91" height="3.57" fill="#e35a3c"/>
<rect x="437.62" y="144.25" width="14.91" height="2.18" fill="#f9d596"/>
<rect x="452.49" y="35.91" width="14.91" height="1.59" fill="#d9412f"/>
<rect x="452.49" y="37.42" width="14.91" height="2.06" fill="#5b8ec7"/>
<rect x="452.49" y="39.40" width="14.91" height="1.24" fill="#f08c5a"/>
<rect x="452.49" y="40.57" width="14.91" height="1.59" fill="#f9d596"/>
<rect x="452.49" y="42.08" width="14.91" height="1.48" fill="#f08c5a"/>
<rect x="452.49" y="43.48" width="14.91" height="2.41" fill="#d9412f"/>
<rect x="452.49" y="45.81" width="14.91" height="4.74" fill="#5b8ec7"/>
<rect x="452.49" y="50.46" width="14.91" height="1.83" fill="#eceed6"/>
<rect x="452.49" y="52.21" width="14.91" height="3.57" fill="#fbe9a8"/>
<rect x="452.49" y="55.70" width="14.91" height="14.63" fill="#5b8ec7"/>
<rect x="452.49" y="70.00" width="14.91" height="1.24" fill="#8db6d9"/>
<rect x="452.49" y="71.16" width="14.91" height="11.14" fill="#5b8ec7"/>
<rect x="452.49" y="82.22" width="14.91" height="3.57" fill="#74a1cf"/>
<rect x="452.49" y="85.72" width="14.91" height="5.32" fill="#5b8ec7"/>
<rect x="452.49" y="90.95" width="14.91" height="4.15" fill="#8db6d9"/>
<rect x="452.49" y="95.03" width="14.91" height="3.57" fill="#5b8ec7"/>
<rect x="452.49" y="98.52" width="14.91" height="2.06" fill="#f08c5a"/>
<rect x="452.49" y="100.50" width="14.91" height="3.34" fill="#d9412f"/>
<rect x="452.49" y="103.76" width="14.91" height="2.41" fill="#8db6d9"/>
<rect x="452.49" y="106.09" width="14.91" height="4.04" fill="#5b8ec7"/>
<rect x="452.49" y="107.00" width="14.91" height="4.15" fill="#5b8ec7"/>
<rect x="452.49" y="111.07" width="14.91" height="1.59" fill="#74a1cf"/>
<rect x="452.49" y="112.59" width="14.91" height="3.22" fill="#5b8ec7"/>
<rect x="452.49" y="115.73" width="14.91" height="2.99" fill="#fbe9a8"/>
<rect x="452.49" y="118.64" width="14.91" height="3.57" fill="#eceed6"/>
<rect x="452.49" y="122.13" width="14.91" height="2.41" fill="#f08c5a"/>
<rect x="452.49" y="124.46" width="14.91" height="4.15" fill="#5b8ec7"/>
<rect x="452.49" y="128.54" width="14.91" height="3.57" fill="#c0d8e9"/>
<rect x="452.49" y="132.03" width="14.91" height="1.83" fill="#f8bc86"/>
<rect x="452.49" y="133.78" width="14.91" height="1.83" fill="#c0d8e9"/>
<rect x="452.49" y="135.52" width="14.91" height="2.06" fill="#e35a3c"/>
<rect x="452.49" y="137.50" width="14.91" height="4.50" fill="#f9d596"/>
<rect x="452.49" y="141.92" width="14.91" height="2.41" fill="#f08c5a"/>
<rect x="452.49" y="144.25" width="14.91" height="2.18" fill="#eceed6"/>
<rect x="467.35" y="35.91" width="14.91" height="2.41" fill="#5b8ec7"/>
<rect x="467.35" y="38.24" width="14.91" height="1.24" fill="#477cbc"/>
<rect x="467.35" y="39.40" width="14.91" height="2.41" fill="#eceed6"/>
<rect x="467.35" y="41.73" width="14.91" height="4.15" fill="#74a1cf"/>
<rect x="467.35" y="45.81" width="14.91" height="1.48" fill="#c0d8e9"/>
<rect x="467.35" y="47.20" width="14.91" height="3.34" fill="#5b8ec7"/>
<rect x="467.35" y="50.46" width="14.91" height="1.83" fill="#8db6d9"/>
<rect x="467.35" y="52.21" width="14.91" height="1.83" fill="#5b8ec7"/>
<rect x="467.35" y="53.95" width="14.91" height="1.24" fill="#8db6d9"/>
<rect x="467.35" y="55.12" width="14.91" height="4.15" fill="#5b8ec7"/>
<rect x="467.35" y="59.19" width="14.91" height="1.83" fill="#8db6d9"/>
<rect x="467.35" y="60.94" width="14.91" height="3.57" fill="#5b8ec7"/>
<rect x="467.35" y="64.43" width="14.91" height="2.41" fill="#8db6d9"/>
<rect x="467.35" y="66.76" width="14.91" height="3.57" fill="#5b8ec7"/>
<rect x="467.35" y="70.00" width="14.91" height="12.30" fill="#5b8ec7"/>
<rect x="467.35" y="82.22" width="14.91" height="2.99" fill="#c0d8e9"/>
<rect x="467.35" y="85.13" width="14.91" height="2.41" fill="#8db6d9"/>
<rect x="467.35" y="87.46" width="14.91" height="3.57" fill="#74a1cf"/>
<rect x="467.35" y="90.95" width="14.91" height="4.15" fill="#c0d8e9"/>
<rect x="467.35" y="95.03" width="14.91" height="3.57" fill="#8db6d9"/>
<rect x="467.35" y="98.52" width="14.91" height="2.06" fill="#e35a3c"/>
<rect x="467.35" y="100.50" width="14.91" height="2.18" fill="#f8bc86"/>
<rect x="467.35" y="102.60" width="14.91" height="1.83" fill="#e35a3c"/>
<rect x="467.35" y="104.34" width="14.91" height="2.99" fill="#8db6d9"/>
<rect x="467.35" y="107.25" width="14.91" height="2.87" fill="#74a1cf"/>
<rect x="467.35" y="107.00" width="14.91" height="1.83" fill="#5b8ec7"/>
<rect x="467.35" y="108.75" width="14.91" height="2.41" fill="#c0d8e9"/>
<rect x="467.35" y="111.07" width="14.91" height="2.99" fill="#74a1cf"/>
<rect x="467.35" y="113.98" width="14.91" height="4.74" fill="#eceed6"/>
<rect x="467.35" y="118.64" width="14.91" height="4.74" fill="#c0d8e9"/>
<rect x="467.35" y="123.30" width="14.91" height="4.15" fill="#e35a3c"/>
<rect x="467.35" y="127.37" width="14.91" height="2.41" fill="#fbe9a8"/>
<rect x="467.35" y="129.70" width="14.91" height="2.41" fill="#f8bc86"/>
<rect x="467.35" y="132.03" width="14.91" height="3.57" fill="#f08c5a"/>
<rect x="467.35" y="135.52" width="14.91" height="2.99" fill="#eceed6"/>
<rect x="467.35" y="138.43" width="14.91" height="1.83" fill="#f8bc86"/>
<rect x="467.35" y="140.18" width="14.91" height="1.83" fill="#e35a3c"/>
<rect x="467.35" y="141.92" width="14.91" height="1.83" fill="#f8bc86"/>
<rect x="467.35" y="143.67" width="14.91" height="2.76" fill="#8db6d9"/>
<rect x="482.21" y="35.91" width="14.91" height="1.59" fill="#d6c9a2"/>
<rect x="482.21" y="37.42" width="14.91" height="2.06" fill="#5b8ec7"/>
<rect x="482.21" y="39.40" width="14.91" height="2.41" fill="#eceed6"/>
<rect x="482.21" y="41.73" width="14.91" height="3.57" fill="#8db6d9"/>
<rect x="482.21" y="45.22" width="14.91" height="4.15" fill="#5b8ec7"/>
<rect x="482.21" y="49.30" width="14.91" height="2.99" fill="#c0d8e9"/>
<rect x="482.21" y="52.21" width="14.91" height="1.59" fill="#5b8ec7"/>
<rect x="482.21" y="53.72" width="14.91" height="1.48" fill="#c0d8e9"/>
<rect x="482.21" y="55.12" width="14.91" height="12.89" fill="#5b8ec7"/>
<rect x="482.21" y="67.92" width="14.91" height="2.41" fill="#8db6d9"/>
<rect x="482.21" y="70.00" width="14.91" height="12.30" fill="#5b8ec7"/>
<rect x="482.21" y="82.22" width="14.91" height="6.48" fill="#8db6d9"/>
<rect x="482.21" y="88.63" width="14.91" height="3.57" fill="#eceed6"/>
<rect x="482.21" y="92.12" width="14.91" height="7.65" fill="#8db6d9"/>
<rect x="482.21" y="99.69" width="14.91" height="1.24" fill="#c0d8e9"/>
<rect x="482.21" y="100.85" width="14.91" height="4.15" fill="#e35a3c"/>
<rect x="482.21" y="104.92" width="14.91" height="1.24" fill="#eceed6"/>
<rect x="482.21" y="106.09" width="14.91" height="2.41" fill="#e35a3c"/>
<rect x="482.21" y="108.42" width="14.91" height="1.71" fill="#8db6d9"/>
<rect x="482.21" y="107.00" width="14.91" height="1.48" fill="#f08c5a"/>
<rect x="482.21" y="108.40" width="14.91" height="2.18" fill="#c0d8e9"/>
<rect x="482.21" y="110.49" width="14.91" height="2.99" fill="#5b8ec7"/>
<rect x="482.21" y="113.40" width="14.91" height="2.99" fill="#74a1cf"/>
<rect x="482.21" y="116.31" width="14.91" height="7.06" fill="#c0d8e9"/>
<rect x="482.21" y="123.30" width="14.91" height="2.99" fill="#8db6d9"/>
<rect x="482.21" y="126.21" width="14.91" height="2.41" fill="#eceed6"/>
<rect x="482.21" y="128.54" width="14.91" height="1.83" fill="#8db6d9"/>
<rect x="482.21" y="130.28" width="14.91" height="5.90" fill="#eceed6"/>
<rect x="482.21" y="136.10" width="14.91" height="2.99" fill="#f8bc86"/>
<rect x="482.21" y="139.01" width="14.91" height="1.83" fill="#eceed6"/>
<rect x="482.21" y="140.76" width="14.91" height="1.83" fill="#e35a3c"/>
<rect x="482.21" y="142.51" width="14.91" height="3.92" fill="#c0d8e9"/>
<rect x="497.07" y="35.91" width="14.91" height="2.99" fill="#8a82aa"/>
<rect x="497.07" y="38.82" width="14.91" height="2.41" fill="#8db6d9"/>
<rect x="497.07" y="41.15" width="14.91" height="2.18" fill="#e35a3c"/>
<rect x="497.07" y="43.24" width="14.91" height="2.06" fill="#8db6d9"/>
<rect x="497.07" y="45.22" width="14.91" height="0.89" fill="#5b8ec7"/>
<rect x="497.07" y="46.04" width="14.91" height="1.59" fill="#f08c5a"/>
<rect x="497.07" y="47.55" width="14.91" height="2.99" fill="#fbe9a8"/>
<rect x="497.07" y="50.46" width="14.91" height="2.41" fill="#8db6d9"/>
<rect x="497.07" y="52.79" width="14.91" height="3.57" fill="#74a1cf"/>
<rect x="497.07" y="56.28" width="14.91" height="2.41" fill="#8db6d9"/>
<rect x="497.07" y="58.61" width="14.91" height="7.06" fill="#5b8ec7"/>
<rect x="497.07" y="65.60" width="14.91" height="1.83" fill="#8db6d9"/>
<rect x="497.07" y="67.34" width="14.91" height="2.99" fill="#5b8ec7"/>
<rect x="497.07" y="70.00" width="14.91" height="3.57" fill="#5b8ec7"/>
<rect x="497.07" y="73.49" width="14.91" height="1.83" fill="#8db6d9"/>
<rect x="497.07" y="75.24" width="14.91" height="4.74" fill="#5b8ec7"/>
<rect x="497.07" y="79.90" width="14.91" height="1.83" fill="#8db6d9"/>
<rect x="497.07" y="81.64" width="14.91" height="5.90" fill="#74a1cf"/>
<rect x="497.07" y="87.46" width="14.91" height="3.57" fill="#5b8ec7"/>
<rect x="497.07" y="90.95" width="14.91" height="4.15" fill="#8db6d9"/>
<rect x="497.07" y="95.03" width="14.91" height="1.24" fill="#c0d8e9"/>
<rect x="497.07" y="96.19" width="14.91" height="4.15" fill="#8db6d9"/>
<rect x="497.07" y="100.27" width="14.91" height="1.48" fill="#fbe9a8"/>
<rect x="497.07" y="101.66" width="14.91" height="2.18" fill="#8db6d9"/>
<rect x="497.07" y="103.76" width="14.91" height="1.83" fill="#f08c5a"/>
<rect x="497.07" y="105.51" width="14.91" height="2.41" fill="#8db6d9"/>
<rect x="497.07" y="107.83" width="14.91" height="2.29" fill="#c0d8e9"/>
<rect x="497.07" y="107.00" width="14.91" height="1.24" fill="#5b8ec7"/>
<rect x="497.07" y="108.16" width="14.91" height="2.41" fill="#eceed6"/>
<rect x="497.07" y="110.49" width="14.91" height="2.41" fill="#74a1cf"/>
<rect x="497.07" y="112.82" width="14.91" height="5.90" fill="#5b8ec7"/>
<rect x="497.07" y="118.64" width="14.91" height="3.57" fill="#fbe9a8"/>
<rect x="497.07" y="122.13" width="14.91" height="1.83" fill="#8db6d9"/>
<rect x="497.07" y="123.88" width="14.91" height="1.83" fill="#f8bc86"/>
<rect x="497.07" y="125.63" width="14.91" height="2.41" fill="#c0d8e9"/>
<rect x="497.07" y="127.95" width="14.91" height="2.41" fill="#f9d596"/>
<rect x="497.07" y="130.28" width="14.91" height="3.57" fill="#fbe9a8"/>
<rect x="497.07" y="133.78" width="14.91" height="1.83" fill="#d9412f"/>
<rect x="497.07" y="135.52" width="14.91" height="4.15" fill="#fbe9a8"/>
<rect x="497.07" y="139.60" width="14.91" height="2.99" fill="#f08c5a"/>
<rect x="497.07" y="142.51" width="14.91" height="1.83" fill="#f9d596"/>
<rect x="497.07" y="144.25" width="14.91" height="2.18" fill="#e35a3c"/>
<rect x="511.94" y="35.91" width="14.91" height="2.76" fill="#e35a3c"/>
<rect x="511.94" y="38.59" width="14.91" height="2.06" fill="#c0d8e9"/>
<rect x="511.94" y="40.57" width="14.91" height="2.99" fill="#5b8ec7"/>
<rect x="511.94" y="43.48" width="14.91" height="1.83" fill="#477cbc"/>
<rect x="511.94" y="45.22" width="14.91" height="1.24" fill="#8db6d9"/>
<rect x="511.94" y="46.39" width="14.91" height="5.32" fill="#477cbc"/>
<rect x="511.94" y="51.63" width="14.91" height="1.48" fill="#c0d8e9"/>
<rect x="511.94" y="53.02" width="14.91" height="17.31" fill="#477cbc"/>
<rect x="511.94" y="70.00" width="14.91" height="11.72" fill="#477cbc"/>
<rect x="511.94" y="81.64" width="14.91" height="3.57" fill="#5b8ec7"/>
<rect x="511.94" y="85.13" width="14.91" height="3.57" fill="#477cbc"/>
<rect x="511.94" y="88.63" width="14.91" height="3.57" fill="#74a1cf"/>
<rect x="511.94" y="92.12" width="14.91" height="5.32" fill="#5b8ec7"/>
<rect x="511.94" y="97.36" width="14.91" height="1.83" fill="#f9d596"/>
<rect x="511.94" y="99.10" width="14.91" height="1.24" fill="#5b8ec7"/>
<rect x="511.94" y="100.27" width="14.91" height="1.24" fill="#f9d596"/>
<rect x="511.94" y="101.43" width="14.91" height="3.57" fill="#5b8ec7"/>
<rect x="511.94" y="104.92" width="14.91" height="2.41" fill="#74a1cf"/>
<rect x="511.94" y="107.25" width="14.91" height="2.87" fill="#5b8ec7"/>
<rect x="511.94" y="107.00" width="14.91" height="2.41" fill="#5b8ec7"/>
<rect x="511.94" y="109.33" width="14.91" height="1.48" fill="#74a1cf"/>
<rect x="511.94" y="110.73" width="14.91" height="5.09" fill="#5b8ec7"/>
<rect x="511.94" y="115.73" width="14.91" height="2.41" fill="#fbe9a8"/>
<rect x="511.94" y="118.06" width="14.91" height="2.41" fill="#5b8ec7"/>
<rect x="511.94" y="120.39" width="14.91" height="2.41" fill="#8db6d9"/>
<rect x="511.94" y="122.72" width="14.91" height="4.15" fill="#5b8ec7"/>
<rect x="511.94" y="126.79" width="14.91" height="4.74" fill="#8db6d9"/>
<rect x="511.94" y="131.45" width="14.91" height="2.41" fill="#e35a3c"/>
<rect x="511.94" y="133.78" width="14.91" height="1.83" fill="#fbe9a8"/>
<rect x="511.94" y="135.52" width="14.91" height="1.83" fill="#8db6d9"/>
<rect x="511.94" y="137.27" width="14.91" height="1.83" fill="#f08c5a"/>
<rect x="511.94" y="139.01" width="14.91" height="2.41" fill="#fbe9a8"/>
<rect x="511.94" y="141.34" width="14.91" height="2.41" fill="#d9412f"/>
<rect x="511.94" y="143.67" width="14.91" height="2.76" fill="#f8bc86"/>
</g>
<rect x="407.90" y="37.99" width="14.86" height="0.6" fill="#ffffff" fill-opacity="0.17"/>
<rect x="407.90" y="39.21" width="14.86" height="1.0" fill="#ffffff" fill-opacity="0.18"/>
<rect x="407.90" y="41.19" width="14.86" height="1.0" fill="#1f4f99" fill-opacity="0.12"/>
<rect x="407.90" y="44.76" width="14.86" height="1.0" fill="#1f4f99" fill-opacity="0.11"/>
<rect x="407.90" y="47.97" width="14.86" height="0.8" fill="#ffffff" fill-opacity="0.21"/>
<rect x="407.90" y="50.39" width="14.86" height="1.0" fill="#ffffff" fill-opacity="0.23"/>
<rect x="407.90" y="55.27" width="14.86" height="1.0" fill="#1f4f99" fill-opacity="0.19"/>
<rect x="407.90" y="62.12" width="14.86" height="0.6" fill="#ffffff" fill-opacity="0.20"/>
<rect x="407.90" y="63.90" width="14.86" height="0.8" fill="#1f4f99" fill-opacity="0.12"/>
<rect x="407.90" y="66.04" width="14.86" height="0.8" fill="#ffffff" fill-opacity="0.11"/>
<rect x="407.90" y="71.93" width="14.86" height="0.8" fill="#ffffff" fill-opacity="0.20"/>
<rect x="407.90" y="86.10" width="14.86" height="0.8" fill="#ffffff" fill-opacity="0.20"/>
<rect x="407.90" y="87.84" width="14.86" height="0.8" fill="#ffffff" fill-opacity="0.18"/>
<rect x="407.90" y="90.88" width="14.86" height="0.6" fill="#ffffff" fill-opacity="0.16"/>
<rect x="407.90" y="98.38" width="14.86" height="0.6" fill="#ffffff" fill-opacity="0.10"/>
<rect x="407.90" y="101.14" width="14.86" height="0.6" fill="#ffffff" fill-opacity="0.18"/>
<rect x="407.90" y="102.98" width="14.86" height="1.0" fill="#ffffff" fill-opacity="0.27"/>
<rect x="407.90" y="110.27" width="14.86" height="0.8" fill="#ffffff" fill-opacity="0.18"/>
<rect x="407.90" y="111.95" width="14.86" height="0.6" fill="#ffffff" fill-opacity="0.22"/>
<rect x="407.90" y="113.26" width="14.86" height="1.0" fill="#ffffff" fill-opacity="0.17"/>
<rect x="407.90" y="118.71" width="14.86" height="0.8" fill="#1f4f99" fill-opacity="0.30"/>
<rect x="407.90" y="120.94" width="14.86" height="0.8" fill="#ffffff" fill-opacity="0.25"/>
<rect x="407.90" y="125.34" width="14.86" height="0.6" fill="#1f4f99" fill-opacity="0.17"/>
<rect x="407.90" y="137.89" width="14.86" height="1.0" fill="#ffffff" fill-opacity="0.26"/>
<rect x="422.76" y="35.90" width="14.86" height="0.8" fill="#ffffff" fill-opacity="0.11"/>
<rect x="422.76" y="37.76" width="14.86" height="0.8" fill="#ffffff" fill-opacity="0.17"/>
<rect x="422.76" y="44.09" width="14.86" height="0.8" fill="#ffffff" fill-opacity="0.19"/>
<rect x="422.76" y="51.57" width="14.86" height="1.0" fill="#ffffff" fill-opacity="0.28"/>
<rect x="422.76" y="56.09" width="14.86" height="1.0" fill="#1f4f99" fill-opacity="0.29"/>
<rect x="422.76" y="59.85" width="14.86" height="0.6" fill="#ffffff" fill-opacity="0.13"/>
<rect x="422.76" y="62.76" width="14.86" height="1.0" fill="#1f4f99" fill-opacity="0.30"/>
<rect x="422.76" y="65.58" width="14.86" height="0.8" fill="#ffffff" fill-opacity="0.10"/>
<rect x="422.76" y="71.03" width="14.86" height="0.6" fill="#1f4f99" fill-opacity="0.27"/>
<rect x="422.76" y="72.55" width="14.86" height="0.8" fill="#ffffff" fill-opacity="0.25"/>
<rect x="422.76" y="74.50" width="14.86" height="1.0" fill="#ffffff" fill-opacity="0.28"/>
<rect x="422.76" y="79.64" width="14.86" height="1.0" fill="#1f4f99" fill-opacity="0.20"/>
<rect x="422.76" y="88.10" width="14.86" height="0.6" fill="#ffffff" fill-opacity="0.25"/>
<rect x="422.76" y="94.19" width="14.86" height="1.0" fill="#ffffff" fill-opacity="0.11"/>
<rect x="422.76" y="98.70" width="14.86" height="0.6" fill="#ffffff" fill-opacity="0.20"/>
<rect x="422.76" y="100.83" width="14.86" height="1.0" fill="#ffffff" fill-opacity="0.26"/>
<rect x="422.76" y="110.66" width="14.86" height="0.6" fill="#ffffff" fill-opacity="0.23"/>
<rect x="422.76" y="117.67" width="14.86" height="0.8" fill="#1f4f99" fill-opacity="0.29"/>
<rect x="422.76" y="119.41" width="14.86" height="0.6" fill="#ffffff" fill-opacity="0.30"/>
<rect x="422.76" y="125.26" width="14.86" height="0.8" fill="#ffffff" fill-opacity="0.16"/>
<rect x="422.76" y="128.00" width="14.86" height="0.6" fill="#ffffff" fill-opacity="0.24"/>
<rect x="422.76" y="132.40" width="14.86" height="0.6" fill="#1f4f99" fill-opacity="0.15"/>
<rect x="422.76" y="135.25" width="14.86" height="0.6" fill="#ffffff" fill-opacity="0.26"/>
<rect x="437.62" y="35.90" width="14.86" height="0.6" fill="#ffffff" fill-opacity="0.12"/>
<rect x="437.62" y="40.93" width="14.86" height="1.0" fill="#1f4f99" fill-opacity="0.22"/>
<rect x="437.62" y="42.52" width="14.86" height="1.0" fill="#ffffff" fill-opacity="0.13"/>
<rect x="437.62" y="55.57" width="14.86" height="0.8" fill="#1f4f99" fill-opacity="0.19"/>
<rect x="437.62" y="66.31" width="14.86" height="0.6" fill="#1f4f99" fill-opacity="0.15"/>
<rect x="437.62" y="72.85" width="14.86" height="0.6" fill="#ffffff" fill-opacity="0.15"/>
<rect x="437.62" y="75.88" width="14.86" height="1.0" fill="#ffffff" fill-opacity="0.28"/>
<rect x="437.62" y="77.81" width="14.86" height="0.6" fill="#ffffff" fill-opacity="0.19"/>
<rect x="437.62" y="79.92" width="14.86" height="0.6" fill="#1f4f99" fill-opacity="0.12"/>
<rect x="437.62" y="82.65" width="14.86" height="0.6" fill="#ffffff" fill-opacity="0.10"/>
<rect x="437.62" y="84.36" width="14.86" height="0.6" fill="#1f4f99" fill-opacity="0.27"/>
<rect x="437.62" y="98.84" width="14.86" height="1.0" fill="#ffffff" fill-opacity="0.20"/>
<rect x="437.62" y="107.16" width="14.86" height="0.6" fill="#ffffff" fill-opacity="0.23"/>
<rect x="437.62" y="112.60" width="14.86" height="1.0" fill="#ffffff" fill-opacity="0.15"/>
<rect x="437.62" y="119.10" width="14.86" height="1.0" fill="#1f4f99" fill-opacity="0.15"/>
<rect x="437.62" y="120.75" width="14.86" height="0.8" fill="#1f4f99" fill-opacity="0.15"/>
<rect x="437.62" y="133.55" width="14.86" height="1.0" fill="#ffffff" fill-opacity="0.20"/>
<rect x="437.62" y="142.86" width="14.86" height="1.0" fill="#1f4f99" fill-opacity="0.29"/>
<rect x="437.62" y="144.39" width="14.86" height="0.8" fill="#ffffff" fill-opacity="0.30"/>
<rect x="452.49" y="35.90" width="14.86" height="0.8" fill="#1f4f99" fill-opacity="0.14"/>
<rect x="452.49" y="39.99" width="14.86" height="0.8" fill="#1f4f99" fill-opacity="0.20"/>
<rect x="452.49" y="43.06" width="14.86" height="1.0" fill="#ffffff" fill-opacity="0.28"/>
<rect x="452.49" y="45.35" width="14.86" height="0.6" fill="#ffffff" fill-opacity="0.19"/>
<rect x="452.49" y="47.05" width="14.86" height="0.6" fill="#ffffff" fill-opacity="0.12"/>
<rect x="452.49" y="54.96" width="14.86" height="0.8" fill="#ffffff" fill-opacity="0.27"/>
<rect x="452.49" y="59.43" width="14.86" height="0.8" fill="#1f4f99" fill-opacity="0.16"/>
<rect x="452.49" y="64.57" width="14.86" height="0.8" fill="#ffffff" fill-opacity="0.29"/>
<rect x="452.49" y="67.64" width="14.86" height="1.0" fill="#1f4f99" fill-opacity="0.21"/>
<rect x="452.49" y="69.54" width="14.86" height="0.6" fill="#1f4f99" fill-opacity="0.19"/>
<rect x="452.49" y="74.62" width="14.86" height="1.0" fill="#ffffff" fill-opacity="0.17"/>
<rect x="452.49" y="83.16" width="14.86" height="1.0" fill="#ffffff" fill-opacity="0.28"/>
<rect x="452.49" y="87.42" width="14.86" height="0.8" fill="#ffffff" fill-opacity="0.15"/>
<rect x="452.49" y="89.07" width="14.86" height="1.0" fill="#ffffff" fill-opacity="0.15"/>
<rect x="452.49" y="95.36" width="14.86" height="0.8" fill="#ffffff" fill-opacity="0.16"/>
<rect x="452.49" y="100.75" width="14.86" height="0.6" fill="#1f4f99" fill-opacity="0.18"/>
<rect x="452.49" y="106.14" width="14.86" height="0.6" fill="#ffffff" fill-opacity="0.25"/>
<rect x="452.49" y="121.14" width="14.86" height="0.8" fill="#1f4f99" fill-opacity="0.10"/>
<rect x="452.49" y="130.94" width="14.86" height="0.6" fill="#ffffff" fill-opacity="0.29"/>
<rect x="452.49" y="132.42" width="14.86" height="0.8" fill="#ffffff" fill-opacity="0.10"/>
<rect x="452.49" y="134.32" width="14.86" height="0.8" fill="#ffffff" fill-opacity="0.27"/>
<rect x="452.49" y="136.11" width="14.86" height="1.0" fill="#ffffff" fill-opacity="0.29"/>
<rect x="452.49" y="139.02" width="14.86" height="0.8" fill="#ffffff" fill-opacity="0.28"/>
<rect x="452.49" y="141.61" width="14.86" height="0.6" fill="#ffffff" fill-opacity="0.29"/>
<rect x="467.35" y="41.41" width="14.86" height="0.6" fill="#ffffff" fill-opacity="0.25"/>
<rect x="467.35" y="49.28" width="14.86" height="0.8" fill="#ffffff" fill-opacity="0.22"/>
<rect x="467.35" y="51.42" width="14.86" height="1.0" fill="#ffffff" fill-opacity="0.28"/>
<rect x="467.35" y="54.68" width="14.86" height="1.0" fill="#ffffff" fill-opacity="0.13"/>
<rect x="467.35" y="59.56" width="14.86" height="0.6" fill="#1f4f99" fill-opacity="0.27"/>
<rect x="467.35" y="62.63" width="14.86" height="0.8" fill="#ffffff" fill-opacity="0.16"/>
<rect x="467.35" y="67.25" width="14.86" height="0.8" fill="#1f4f99" fill-opacity="0.26"/>
<rect x="467.35" y="75.04" width="14.86" height="1.0" fill="#1f4f99" fill-opacity="0.25"/>
<rect x="467.35" y="79.33" width="14.86" height="0.6" fill="#1f4f99" fill-opacity="0.28"/>
<rect x="467.35" y="81.10" width="14.86" height="0.8" fill="#1f4f99" fill-opacity="0.11"/>
<rect x="467.35" y="83.90" width="14.86" height="1.0" fill="#ffffff" fill-opacity="0.10"/>
<rect x="467.35" y="88.54" width="14.86" height="0.6" fill="#1f4f99" fill-opacity="0.19"/>
<rect x="467.35" y="95.59" width="14.86" height="1.0" fill="#1f4f99" fill-opacity="0.13"/>
<rect x="467.35" y="100.43" width="14.86" height="1.0" fill="#ffffff" fill-opacity="0.25"/>
<rect x="467.35" y="104.49" width="14.86" height="1.0" fill="#1f4f99" fill-opacity="0.28"/>
<rect x="467.35" y="112.40" width="14.86" height="0.8" fill="#ffffff" fill-opacity="0.19"/>
<rect x="467.35" y="121.33" width="14.86" height="0.8" fill="#ffffff" fill-opacity="0.17"/>
<rect x="467.35" y="124.11" width="14.86" height="0.6" fill="#ffffff" fill-opacity="0.15"/>
<rect x="467.35" y="125.77" width="14.86" height="1.0" fill="#ffffff" fill-opacity="0.15"/>
<rect x="467.35" y="127.76" width="14.86" height="1.0" fill="#1f4f99" fill-opacity="0.23"/>
<rect x="467.35" y="131.25" width="14.86" height="0.6" fill="#1f4f99" fill-opacity="0.15"/>
<rect x="467.35" y="133.24" width="14.86" height="0.8" fill="#ffffff" fill-opacity="0.12"/>
<rect x="467.35" y="134.92" width="14.86" height="1.0" fill="#ffffff" fill-opacity="0.20"/>
<rect x="467.35" y="136.78" width="14.86" height="1.0" fill="#1f4f99" fill-opacity="0.29"/>
<rect x="467.35" y="140.69" width="14.86" height="0.6" fill="#ffffff" fill-opacity="0.14"/>
<rect x="482.21" y="35.90" width="14.86" height="0.8" fill="#ffffff" fill-opacity="0.14"/>
<rect x="482.21" y="42.72" width="14.86" height="1.0" fill="#ffffff" fill-opacity="0.24"/>
<rect x="482.21" y="47.17" width="14.86" height="0.6" fill="#ffffff" fill-opacity="0.17"/>
<rect x="482.21" y="51.19" width="14.86" height="0.8" fill="#ffffff" fill-opacity="0.28"/>
<rect x="482.21" y="53.33" width="14.86" height="0.6" fill="#1f4f99" fill-opacity="0.19"/>
<rect x="482.21" y="54.76" width="14.86" height="0.6" fill="#ffffff" fill-opacity="0.26"/>
<rect x="482.21" y="58.89" width="14.86" height="1.0" fill="#ffffff" fill-opacity="0.13"/>
<rect x="482.21" y="60.74" width="14.86" height="0.6" fill="#ffffff" fill-opacity="0.26"/>
<rect x="482.21" y="63.77" width="14.86" height="0.6" fill="#1f4f99" fill-opacity="0.11"/>
<rect x="482.21" y="66.70" width="14.86" height="0.8" fill="#1f4f99" fill-opacity="0.18"/>
<rect x="482.21" y="76.72" width="14.86" height="0.8" fill="#ffffff" fill-opacity="0.18"/>
<rect x="482.21" y="79.06" width="14.86" height="0.8" fill="#ffffff" fill-opacity="0.29"/>
<rect x="482.21" y="81.99" width="14.86" height="0.6" fill="#ffffff" fill-opacity="0.25"/>
<rect x="482.21" y="83.17" width="14.86" height="0.8" fill="#ffffff" fill-opacity="0.21"/>
<rect x="482.21" y="87.64" width="14.86" height="0.6" fill="#ffffff" fill-opacity="0.19"/>
<rect x="482.21" y="89.61" width="14.86" height="0.6" fill="#1f4f99" fill-opacity="0.19"/>
<rect x="482.21" y="95.92" width="14.86" height="0.6" fill="#ffffff" fill-opacity="0.12"/>
<rect x="482.21" y="99.49" width="14.86" height="0.6" fill="#1f4f99" fill-opacity="0.26"/>
<rect x="482.21" y="108.84" width="14.86" height="0.6" fill="#1f4f99" fill-opacity="0.20"/>
<rect x="482.21" y="114.39" width="14.86" height="0.6" fill="#ffffff" fill-opacity="0.25"/>
<rect x="482.21" y="115.81" width="14.86" height="1.0" fill="#1f4f99" fill-opacity="0.13"/>
<rect x="482.21" y="118.32" width="14.86" height="0.8" fill="#ffffff" fill-opacity="0.20"/>
<rect x="482.21" y="120.25" width="14.86" height="0.6" fill="#ffffff" fill-opacity="0.23"/>
<rect x="482.21" y="123.55" width="14.86" height="0.8" fill="#ffffff" fill-opacity="0.23"/>
<rect x="482.21" y="128.03" width="14.86" height="0.6" fill="#ffffff" fill-opacity="0.27"/>
<rect x="482.21" y="130.60" width="14.86" height="0.8" fill="#1f4f99" fill-opacity="0.22"/>
<rect x="482.21" y="132.62" width="14.86" height="0.6" fill="#ffffff" fill-opacity="0.25"/>
<rect x="482.21" y="133.82" width="14.86" height="1.0" fill="#ffffff" fill-opacity="0.30"/>
<rect x="482.21" y="139.46" width="14.86" height="1.0" fill="#ffffff" fill-opacity="0.22"/>
<rect x="482.21" y="141.82" width="14.86" height="1.0" fill="#ffffff" fill-opacity="0.20"/>
<rect x="482.21" y="144.55" width="14.86" height="0.6" fill="#ffffff" fill-opacity="0.17"/>
<rect x="497.07" y="57.91" width="14.86" height="0.6" fill="#ffffff" fill-opacity="0.11"/>
<rect x="497.07" y="59.06" width="14.86" height="0.6" fill="#ffffff" fill-opacity="0.26"/>
<rect x="497.07" y="62.08" width="14.86" height="0.8" fill="#ffffff" fill-opacity="0.20"/>
<rect x="497.07" y="64.67" width="14.86" height="1.0" fill="#ffffff" fill-opacity="0.16"/>
<rect x="497.07" y="69.19" width="14.86" height="0.6" fill="#ffffff" fill-opacity="0.28"/>
<rect x="497.07" y="72.41" width="14.86" height="0.6" fill="#ffffff" fill-opacity="0.12"/>
<rect x="497.07" y="77.32" width="14.86" height="0.6" fill="#ffffff" fill-opacity="0.19"/>
<rect x="497.07" y="82.08" width="14.86" height="0.6" fill="#ffffff" fill-opacity="0.13"/>
<rect x="497.07" y="84.99" width="14.86" height="1.0" fill="#ffffff" fill-opacity="0.28"/>
<rect x="497.07" y="86.88" width="14.86" height="0.8" fill="#ffffff" fill-opacity="0.28"/>
<rect x="497.07" y="95.80" width="14.86" height="1.0" fill="#ffffff" fill-opacity="0.29"/>
<rect x="497.07" y="99.85" width="14.86" height="1.0" fill="#1f4f99" fill-opacity="0.13"/>
<rect x="497.07" y="106.36" width="14.86" height="1.0" fill="#ffffff" fill-opacity="0.27"/>
<rect x="497.07" y="112.12" width="14.86" height="1.0" fill="#1f4f99" fill-opacity="0.28"/>
<rect x="497.07" y="115.51" width="14.86" height="0.6" fill="#ffffff" fill-opacity="0.11"/>
<rect x="497.07" y="118.51" width="14.86" height="1.0" fill="#1f4f99" fill-opacity="0.23"/>
<rect x="497.07" y="120.96" width="14.86" height="0.6" fill="#1f4f99" fill-opacity="0.14"/>
<rect x="497.07" y="122.70" width="14.86" height="0.8" fill="#ffffff" fill-opacity="0.29"/>
<rect x="497.07" y="133.22" width="14.86" height="0.6" fill="#1f4f99" fill-opacity="0.17"/>
<rect x="497.07" y="140.33" width="14.86" height="0.8" fill="#ffffff" fill-opacity="0.25"/>
<rect x="497.07" y="143.59" width="14.86" height="0.6" fill="#ffffff" fill-opacity="0.24"/>
<rect x="511.94" y="39.11" width="14.86" height="1.0" fill="#1f4f99" fill-opacity="0.16"/>
<rect x="511.94" y="41.04" width="14.86" height="1.0" fill="#ffffff" fill-opacity="0.29"/>
<rect x="511.94" y="51.67" width="14.86" height="1.0" fill="#1f4f99" fill-opacity="0.11"/>
<rect x="511.94" y="53.58" width="14.86" height="0.8" fill="#ffffff" fill-opacity="0.13"/>
<rect x="511.94" y="56.84" width="14.86" height="1.0" fill="#ffffff" fill-opacity="0.21"/>
<rect x="511.94" y="74.59" width="14.86" height="1.0" fill="#ffffff" fill-opacity="0.24"/>
<rect x="511.94" y="80.83" width="14.86" height="1.0" fill="#ffffff" fill-opacity="0.13"/>
<rect x="511.94" y="82.99" width="14.86" height="0.6" fill="#1f4f99" fill-opacity="0.30"/>
<rect x="511.94" y="84.42" width="14.86" height="1.0" fill="#ffffff" fill-opacity="0.30"/>
<rect x="511.94" y="87.50" width="14.86" height="1.0" fill="#ffffff" fill-opacity="0.12"/>
<rect x="511.94" y="90.83" width="14.86" height="0.8" fill="#ffffff" fill-opacity="0.11"/>
<rect x="511.94" y="95.23" width="14.86" height="1.0" fill="#ffffff" fill-opacity="0.15"/>
<rect x="511.94" y="103.59" width="14.86" height="1.0" fill="#ffffff" fill-opacity="0.24"/>
<rect x="511.94" y="110.06" width="14.86" height="1.0" fill="#ffffff" fill-opacity="0.19"/>
<rect x="511.94" y="112.08" width="14.86" height="1.0" fill="#ffffff" fill-opacity="0.26"/>
<rect x="511.94" y="115.01" width="14.86" height="1.0" fill="#1f4f99" fill-opacity="0.20"/>
<rect x="511.94" y="120.92" width="14.86" height="0.6" fill="#ffffff" fill-opacity="0.29"/>
<rect x="511.94" y="122.10" width="14.86" height="1.0" fill="#1f4f99" fill-opacity="0.29"/>
<rect x="511.94" y="124.00" width="14.86" height="0.8" fill="#ffffff" fill-opacity="0.21"/>
<rect x="511.94" y="126.73" width="14.86" height="1.0" fill="#1f4f99" fill-opacity="0.17"/>
<rect x="511.94" y="130.84" width="14.86" height="1.0" fill="#ffffff" fill-opacity="0.29"/>
<rect x="511.94" y="133.80" width="14.86" height="1.0" fill="#ffffff" fill-opacity="0.15"/>
<rect x="511.94" y="136.10" width="14.86" height="0.6" fill="#1f4f99" fill-opacity="0.23"/>
<rect x="511.94" y="138.55" width="14.86" height="1.0" fill="#ffffff" fill-opacity="0.25"/>
<path d="M415.33 23.00V35.50M430.19 23.00V35.50M415.33 23.00H430.19M445.06 15.00V35.50M459.92 15.00V35.50M445.06 15.00H459.92M474.78 15.40V35.50M489.64 15.40V35.50M474.78 15.40H489.64M504.51 15.40V35.50M519.37 15.40V35.50M504.51 15.40H519.37M482.21 13.80H511.94M482.21 13.80V15.40M511.94 13.80V15.40M452.49 13.00H497.07M452.49 13.00V15.00M497.07 13.00V13.80M422.76 10.00H474.78M422.76 10.00V23.00M474.78 10.00V13.00" stroke="#222" stroke-width="0.55" fill="none"/>
<polygon points="407.90,35.90 394.49,35.90 395.24,36.45 395.12,37.00 395.73,37.55 395.96,38.10 395.15,38.65 395.24,39.20 396.92,39.75 396.07,40.30 396.22,40.85 397.78,41.40 397.03,41.95 398.31,42.50 397.88,43.05 398.39,43.60 397.73,44.15 398.82,44.70 399.46,45.25 399.06,45.80 399.67,46.35 399.77,46.90 398.90,47.45 400.36,48.00 400.28,48.55 399.98,49.10 399.72,49.65 401.51,50.20 400.95,50.75 401.54,51.30 401.98,51.85 401.83,52.40 402.35,52.95 401.56,53.50 402.44,54.05 401.94,54.60 402.97,55.15 403.02,55.70 401.76,56.25 401.98,56.80 402.28,57.35 403.77,57.90 402.97,58.45 403.46,59.00 403.02,59.55 403.61,60.10 403.39,60.65 403.33,61.20 403.75,61.75 403.75,62.30 404.33,62.85 403.93,63.40 404.37,63.95 404.24,64.50 404.48,65.05 403.91,65.60 402.99,66.15 404.25,66.70 404.44,67.25 404.33,67.80 403.72,68.35 403.98,68.90 403.08,69.45 404.20,70.00 403.73,70.55 403.21,71.10 402.81,71.65 404.24,72.20 404.48,72.75 402.86,73.30 404.14,73.85 403.44,74.40 402.97,74.95 403.23,75.50 404.08,76.05 404.27,76.60 402.78,77.15 403.81,77.70 402.78,78.25 403.99,78.80 403.30,79.35 404.29,79.90 404.47,80.45 403.61,81.00 404.50,81.55 403.26,82.10 402.84,82.65 403.78,83.20 402.76,83.75 403.06,84.30 403.43,84.85 403.80,85.40 402.98,85.95 402.78,86.50 404.26,87.05 403.26,87.60 404.43,88.15 404.31,88.70 403.38,89.25 403.53,89.80 403.64,90.35 403.86,90.90 403.77,91.45 403.71,92.00 403.82,92.55 404.39,93.10 403.61,93.65 403.48,94.20 404.00,94.75 403.13,95.30 403.24,95.85 404.46,96.40 403.64,96.95 403.69,97.50 402.72,98.05 403.45,98.60 400.34,99.15 399.34,99.70 400.41,100.25 400.44,100.80 399.41,101.35 400.43,101.90 400.14,102.45 400.52,103.00 399.93,103.55 401.57,104.10 401.63,104.65 400.34,105.20 400.41,105.75 401.52,106.30 402.03,106.85 400.75,107.40 401.12,107.95 401.37,108.50 400.88,109.05 400.96,109.60 400.86,110.15 400.96,110.70 401.37,111.25 400.84,111.80 400.98,112.35 401.69,112.90 400.35,113.45 401.32,114.00 401.62,114.55 400.86,115.10 400.70,115.65 401.75,116.20 400.73,116.75 400.64,117.30 401.08,117.85 401.56,118.40 400.48,118.95 400.88,119.50 400.90,120.05 401.80,120.60 401.09,121.15 401.84,121.70 400.60,122.25 400.91,122.80 401.47,123.35 401.89,123.90 401.11,124.45 400.71,125.00 400.52,125.55 401.25,126.10 400.64,126.65 401.75,127.20 401.81,127.75 400.63,128.30 400.80,128.85 401.75,129.40 401.46,129.95 401.75,130.50 400.92,131.05 400.53,131.60 400.83,132.15 401.73,132.70 400.79,133.25 400.92,133.80 401.05,134.35 401.06,134.90 401.04,135.45 401.96,136.00 400.58,136.55 400.31,137.10 402.00,137.65 401.88,138.20 402.08,138.75 401.08,139.30 402.01,139.85 401.97,140.40 400.70,140.95 401.64,141.50 401.81,142.05 401.49,142.60 401.23,143.15 400.82,143.70 400.91,144.25 400.71,144.80 400.42,145.35 401.36,145.90 400.82,146.45 407.90,146.70" fill="#000"/>
<path d="M392.86 39.30H396.65M392.70 39.92H396.87M393.95 40.71H397.15M391.54 41.53H397.44M393.79 42.47H398.19M393.03 43.18H398.47M394.23 44.10H398.84M394.08 45.98H399.59M392.96 46.92H399.97M393.71 47.59H400.24M392.30 48.36H400.54M392.91 48.93H400.77M397.44 50.45H401.42M397.08 51.14H401.61M397.36 51.98H401.83M396.65 52.61H402.01M397.87 53.41H402.22M398.02 54.00H402.38M398.73 56.37H403.02M399.14 57.15H403.23M398.73 58.01H403.46M398.31 58.80H403.68M401.61 59.54H403.88M403.41 60.51H404.10M401.76 61.42H404.10M402.79 63.78H404.10M402.23 64.58H404.10M402.94 65.14H404.10M400.38 65.71H404.10M400.09 66.65H404.10M403.21 67.58H404.10M403.04 69.41H404.10M401.94 69.98H404.10M402.85 70.85H404.10M401.23 71.82H404.10M400.95 73.28H404.10M401.50 74.11H404.10M401.33 74.83H404.10M401.90 75.56H404.10M402.84 76.55H404.10M402.87 77.17H404.10M401.84 78.03H404.10M402.84 79.48H404.10M401.68 80.45H404.10M401.02 81.32H404.10M401.20 81.96H404.10M403.62 82.61H404.10M401.57 83.30H404.10M401.02 84.23H404.10M401.82 84.88H404.10M401.37 85.60H404.10M400.55 86.30H404.10M402.28 87.29H404.10M401.83 88.97H404.10M403.65 90.58H404.10M400.89 91.34H404.10M403.64 92.21H404.10M400.72 93.14H404.10M402.68 93.81H404.10M402.77 96.10H404.10M403.17 96.69H404.10M402.21 97.37H404.10M401.27 98.23H404.10M400.80 98.97H404.10M394.05 100.51H400.70M394.03 101.19H400.70M396.48 103.45H400.70M396.09 104.13H401.70M396.47 105.04H401.70M395.64 106.03H401.70M394.94 106.63H401.70M395.75 107.50H401.70M396.00 108.13H401.70M397.14 109.61H401.70M396.34 110.22H401.70M396.06 111.04H401.70M394.27 111.80H401.70M396.47 112.38H401.70M394.97 113.17H401.70M396.92 113.84H401.70M394.54 114.41H401.70M394.86 115.31H401.70M396.53 116.04H401.70M393.98 117.35H401.70M396.36 117.95H401.70M395.18 118.58H401.70M394.16 120.35H401.70M395.60 121.08H401.70M394.55 121.89H401.70M396.65 122.79H401.70M395.82 124.46H401.70M396.87 126.16H401.70M396.36 126.92H401.70M396.12 127.48H401.70M395.35 128.25H401.70M393.74 128.88H401.70M395.29 129.66H401.70M396.61 131.41H401.70M394.97 132.25H401.70M395.65 132.90H401.70M396.91 133.87H401.70M396.86 134.73H401.70M394.91 136.42H401.70M396.48 138.27H401.70M393.76 139.04H401.70M394.21 139.63H401.70M395.64 140.40H401.70M394.76 141.14H401.70M395.13 141.90H401.70M395.01 143.41H401.70M394.45 144.19H401.70M396.58 144.75H401.70M394.34 145.36H401.70M395.13 146.00H401.70M394.02 146.63H401.70" stroke="#000" stroke-width="0.55" fill="none"/>
<path d="M401.04 89.26V90.54M401.88 84.75V88.27M393.97 42.36V44.87M395.84 39.75V41.67M395.85 46.97V48.71M396.37 103.38V104.99M395.83 42.44V44.55M397.48 121.04V125.32M401.50 69.00V71.08M398.53 123.91V126.24M397.15 46.91V51.31M394.52 100.15V101.45M393.81 46.57V47.89M395.49 42.66V46.83M402.65 58.33V61.11M400.37 122.72V127.03M392.78 40.55V43.76M395.06 137.99V140.16M395.23 127.67V130.16M402.53 72.59V76.85M400.95 55.55V59.17M398.04 126.15V130.40M401.90 75.65V77.61M397.58 120.15V122.24M400.73 55.03V58.23M396.98 112.79V115.60M400.21 53.34V54.61M402.72 86.77V90.20M394.43 47.27V51.25M400.12 105.51V109.58M403.05 84.95V88.57M401.79 72.54V73.98M403.19 79.55V81.10M401.16 97.66V99.12M396.04 106.23V107.59M399.91 53.21V56.34M391.74 38.15V42.54M402.25 60.40V62.99M398.37 120.33V124.13M401.35 94.06V95.85M397.48 45.35V46.92M395.75 39.46V41.32M395.05 132.30V135.04M402.89 60.69V63.92M399.37 105.44V109.52M402.35 73.86V76.53" stroke="#000" stroke-width="0.5" fill="none"/>
<path d="M382.00 40.30V122.00M382.00 40.30H389.60M382.00 122.00H383.80M383.80 106.70V137.70M383.80 106.70H388.40M383.80 137.70H387.80M389.60 37.60V43.20M389.60 37.60H393.00M389.60 43.20H391.20M391.20 41.00V47.00M391.20 41.00H395.00M391.20 47.00H392.60M392.60 44.20V51.60M392.60 44.20H397.00M392.60 51.60H394.20M394.20 47.60V56.60M394.20 47.60H398.00M394.20 56.60H395.40M395.40 52.20V66.00M395.40 52.20H399.00M395.40 66.00H396.60M396.60 55.60V77.00M396.60 55.60H400.00M396.60 77.00H398.20M398.20 60.00V92.00M398.20 60.00H401.00M398.20 92.00H400.00M400.00 74.00V98.00M400.00 74.00H402.50M400.00 98.00H402.50M401.40 61.00V88.00M402.60 64.00V96.00M388.40 102.40V112.00M388.40 102.40H392.00M388.40 112.00H390.20M390.20 107.00V120.00M390.20 107.00H394.00M390.20 120.00H391.60M391.60 114.00V127.00M391.60 114.00H395.00M391.60 127.00H393.40M393.40 121.00V131.00M393.40 121.00H396.00M393.40 131.00H396.00M387.80 134.00V141.60M387.80 134.00H392.00M387.80 141.60H390.00M390.00 139.00V144.40M390.00 139.00H394.00M390.00 144.40H393.00M392.00 132.00V136.40M392.00 132.00H396.00M392.00 136.40H395.00" stroke="#222" stroke-width="0.5" fill="none"/>
<text x="380.70" y="87.60" font-size="4.5" fill="#111" text-anchor="middle" transform="rotate(-89.97 380.70 87.60)">Genes</text>
<text x="417.73" y="149.70" font-size="6.8" fill="#1a1a1a" text-anchor="end" transform="rotate(-89.97 417.73 149.70)" stroke="#1a1a1a" stroke-width="0.15">Amphibians</text>
<text x="432.59" y="149.70" font-size="6.8" fill="#1a1a1a" text-anchor="end" transform="rotate(-89.97 432.59 149.70)" stroke="#1a1a1a" stroke-width="0.15">Salamanders</text>
<text x="447.46" y="151.30" font-size="6.8" fill="#1a1a1a" text-anchor="end" transform="rotate(-89.97 447.46 151.30)" stroke="#1a1a1a" stroke-width="0.15">Reptiles</text>
<text x="462.32" y="151.30" font-size="6.8" fill="#1a1a1a" text-anchor="end" transform="rotate(-89.97 462.32 151.30)" stroke="#1a1a1a" stroke-width="0.15">Mammals</text>
<text x="477.18" y="151.30" font-size="6.8" fill="#1a1a1a" text-anchor="end" transform="rotate(-89.97 477.18 151.30)" stroke="#1a1a1a" stroke-width="0.15">Caecilian</text>
<text x="492.04" y="151.30" font-size="6.8" fill="#1a1a1a" text-anchor="end" transform="rotate(-89.97 492.04 151.30)" stroke="#1a1a1a" stroke-width="0.15">Frogs</text>
<text x="506.91" y="151.30" font-size="6.8" fill="#1a1a1a" text-anchor="end" transform="rotate(-89.97 506.91 151.30)" stroke="#1a1a1a" stroke-width="0.15">Fishes</text>
<text x="521.77" y="151.30" font-size="6.8" fill="#1a1a1a" text-anchor="end" transform="rotate(-89.97 521.77 151.30)" stroke="#1a1a1a" stroke-width="0.15">Birds</text>
<defs><linearGradient id="gC" x1="0" y1="0" x2="0" y2="1"><stop offset="0" stop-color="#d73a27"/><stop offset="0.13" stop-color="#ee6f47"/><stop offset="0.27" stop-color="#fbb26b"/><stop offset="0.42" stop-color="#fde7a4"/><stop offset="0.55" stop-color="#eef3d9"/><stop offset="0.68" stop-color="#b8d6e8"/><stop offset="0.84" stop-color="#6d9fd0"/><stop offset="1" stop-color="#3f6fb5"/></linearGradient></defs>
<text x="529.30" y="30.10" font-size="5.2" fill="#222" transform="rotate(0.03 529.30 30.10)">dN/dS</text>
<rect x="529.60" y="35.80" width="4.70" height="73.60" fill="url(#gC)"/>
<text x="536.50" y="38.20" font-size="4.6" fill="#222" transform="rotate(0.03 536.50 38.20)">0.2</text>
<text x="536.50" y="56.30" font-size="4.6" fill="#222" transform="rotate(0.03 536.50 56.30)">0.15</text>
<text x="536.50" y="74.60" font-size="4.6" fill="#222" transform="rotate(0.03 536.50 74.60)">0.1</text>
<text x="536.50" y="92.80" font-size="4.6" fill="#222" transform="rotate(0.03 536.50 92.80)">0.05</text>
<text x="536.50" y="110.60" font-size="4.6" fill="#222" transform="rotate(0.03 536.50 110.60)">0</text>
</g>
<g id="panelD">
<text x="3.80" y="311.60" font-size="10.6" fill="#222" transform="rotate(0.03 3.80 311.60)">D</text>
<circle cx="91.45" cy="391.00" r="86.30" fill="#ececec" stroke="#3a3a3a" stroke-width="0.6"/>
<text x="90.60" y="309.40" font-size="5.6" fill="#222" text-anchor="middle" transform="rotate(0.03 90.60 309.40)">3251</text>
<text x="91.10" y="315.80" font-size="5.4" fill="#222" text-anchor="middle" transform="rotate(0.03 91.10 315.80)">orthologs among Lissamphibia</text>
<circle cx="91.75" cy="335.00" r="18.15" fill="#4fc29c" stroke="#3a3a3a" stroke-width="0.75" fill-opacity="0.6"/>
<circle cx="76.40" cy="361.80" r="18.10" fill="#e5ae78" stroke="#3a3a3a" stroke-width="0.75" fill-opacity="0.6"/>
<circle cx="106.80" cy="361.80" r="18.10" fill="#aecb7c" stroke="#3a3a3a" stroke-width="0.75" fill-opacity="0.6"/>
<text x="91.30" y="332.20" font-size="4.5" fill="#222" text-anchor="middle" transform="rotate(0.03 91.30 332.20)">Frogs</text>
<text x="91.30" y="338.40" font-size="4.5" fill="#222" text-anchor="middle" transform="rotate(0.03 91.30 338.40)">10</text>
<text x="75.30" y="360.00" font-size="4.5" fill="#222" text-anchor="middle" transform="rotate(0.03 75.30 360.00)">Caecilians</text>
<text x="75.30" y="365.40" font-size="4.5" fill="#222" text-anchor="middle" transform="rotate(0.03 75.30 365.40)">63</text>
<text x="110.00" y="360.00" font-size="4.5" fill="#222" text-anchor="middle" transform="rotate(0.03 110.00 360.00)">Salamanders</text>
<text x="110.00" y="365.40" font-size="4.5" fill="#222" text-anchor="middle" transform="rotate(0.03 110.00 365.40)">16</text>
<text x="84.60" y="350.10" font-size="4.0" fill="#222" text-anchor="middle" transform="rotate(0.03 84.60 350.10)">1</text>
<text x="99.90" y="350.10" font-size="4.0" fill="#222" text-anchor="middle" transform="rotate(0.03 99.90 350.10)">2</text>
<text x="91.30" y="361.80" font-size="4.0" fill="#222" text-anchor="middle" transform="rotate(0.03 91.30 361.80)">1</text>
<ellipse cx="91.45" cy="427.7" rx="50.15" ry="47.8" fill="#dedede" stroke="#3a3a3a" stroke-width="0.6"/>
<ellipse cx="91.45" cy="426.6" rx="47.75" ry="46.6" fill="#c6c6c6" stroke="#3a3a3a" stroke-width="0.6"/>
<text x="91.40" y="388.00" font-size="6.2" fill="#222" text-anchor="middle" font-weight="bold" transform="rotate(0.03 91.40 388.00)">1604</text>
<text x="91.40" y="392.30" font-size="3.65" fill="#333" text-anchor="middle" transform="rotate(0.03 91.40 392.30)">orthologs among 22 vertebrates</text>
<ellipse cx="108.4" cy="444.0" rx="34.0" ry="19.6" transform="rotate(-45 108.4 444.0)" fill="#3580c8" fill-opacity="0.66"/>
<ellipse cx="74.4" cy="444.0" rx="34.0" ry="19.6" transform="rotate(45 74.4 444.0)" fill="#f8a2af" fill-opacity="0.66"/>
<ellipse cx="92.0" cy="435.0" rx="33.8" ry="15.2" transform="rotate(-45 92.0 435.0)" fill="#7a2cb4" fill-opacity="0.64"/>
<ellipse cx="91.0" cy="435.0" rx="33.8" ry="15.2" transform="rotate(45 91.0 435.0)" fill="#f8a820" fill-opacity="0.66"/>
<ellipse cx="108.4" cy="444.0" rx="34.0" ry="19.6" transform="rotate(-45 108.4 444.0)" fill="none" stroke="#222" stroke-width="0.8"/>
<ellipse cx="74.4" cy="444.0" rx="34.0" ry="19.6" transform="rotate(45 74.4 444.0)" fill="none" stroke="#222" stroke-width="0.8"/>
<ellipse cx="92.0" cy="435.0" rx="33.8" ry="15.2" transform="rotate(-45 92.0 435.0)" fill="none" stroke="#222" stroke-width="0.8"/>
<ellipse cx="91.0" cy="435.0" rx="33.8" ry="15.2" transform="rotate(45 91.0 435.0)" fill="none" stroke="#222" stroke-width="0.8"/>
<text x="53.40" y="412.80" font-size="3.8" fill="#333" text-anchor="middle" transform="rotate(0.03 53.40 412.80)">Fishes</text>
<text x="76.30" y="404.30" font-size="3.8" fill="#333" text-anchor="middle" transform="rotate(0.03 76.30 404.30)">Reptiles&amp;Birds</text>
<text x="106.80" y="404.30" font-size="3.8" fill="#333" text-anchor="middle" transform="rotate(0.03 106.80 404.30)">Mammals</text>
<text x="127.00" y="412.80" font-size="3.8" fill="#333" text-anchor="middle" transform="rotate(0.03 127.00 412.80)">Amphibians</text>
<text x="75.30" y="413.40" font-size="4.6" fill="#222" text-anchor="middle" transform="rotate(0.03 75.30 413.40)">9</text>
<text x="75.30" y="416.60" font-size="4.0" fill="#222" text-anchor="middle" transform="rotate(0.03 75.30 416.60)">(196)</text>
<text x="107.20" y="413.40" font-size="4.6" fill="#222" text-anchor="middle" transform="rotate(0.03 107.20 413.40)">5</text>
<text x="107.20" y="416.60" font-size="4.0" fill="#222" text-anchor="middle" transform="rotate(0.03 107.20 416.60)">(65)</text>
<text x="59.10" y="435.20" font-size="4.6" fill="#222" text-anchor="middle" transform="rotate(0.03 59.10 435.20)">3</text>
<text x="59.10" y="438.50" font-size="4.0" fill="#222" text-anchor="middle" transform="rotate(0.03 59.10 438.50)">(91)</text>
<text x="123.40" y="435.20" font-size="4.6" fill="#222" text-anchor="middle" transform="rotate(0.03 123.40 435.20)">24</text>
<text x="123.40" y="438.50" font-size="4.0" fill="#222" text-anchor="middle" transform="rotate(0.03 123.40 438.50)">(170)</text>
<text x="71.50" y="426.42" font-size="4.6" fill="#111" text-anchor="middle" transform="rotate(0.03 71.50 426.42)">0</text>
<text x="91.16" y="424.13" font-size="4.6" fill="#111" text-anchor="middle" transform="rotate(0.03 91.16 424.13)">0</text>
<text x="111.59" y="426.42" font-size="4.6" fill="#111" text-anchor="middle" transform="rotate(0.03 111.59 426.42)">0</text>
<text x="81.05" y="435.96" font-size="4.6" fill="#111" text-anchor="middle" transform="rotate(0.03 81.05 435.96)">0</text>
<text x="101.47" y="435.96" font-size="4.6" fill="#111" text-anchor="middle" transform="rotate(0.03 101.47 435.96)">0</text>
<text x="91.16" y="446.85" font-size="4.6" fill="#111" text-anchor="middle" transform="rotate(0.03 91.16 446.85)">0</text>
<text x="73.41" y="452.19" font-size="4.6" fill="#111" text-anchor="middle" transform="rotate(0.03 73.41 452.19)">0</text>
<text x="82.96" y="455.06" font-size="4.6" fill="#111" text-anchor="middle" transform="rotate(0.03 82.96 455.06)">0</text>
<text x="99.56" y="455.06" font-size="4.6" fill="#111" text-anchor="middle" transform="rotate(0.03 99.56 455.06)">0</text>
<text x="109.68" y="452.19" font-size="4.6" fill="#111" text-anchor="middle" transform="rotate(0.03 109.68 452.19)">0</text>
<text x="91.16" y="465.56" font-size="4.6" fill="#111" text-anchor="middle" transform="rotate(0.03 91.16 465.56)">2</text>
</g>
<g id="panelE">
<text x="215.30" y="208.90" font-size="10.6" fill="#222" transform="rotate(0.03 215.30 208.90)">E</text>
<rect x="405.60" y="197.40" width="128.40" height="287.70" fill="#ebebeb"/>
<line x1="424.00" y1="197.40" x2="424.00" y2="485.10" stroke="#f6f6f6" stroke-width="0.45"/>
<line x1="450.79" y1="197.40" x2="450.79" y2="485.10" stroke="#f6f6f6" stroke-width="0.45"/>
<line x1="477.58" y1="197.40" x2="477.58" y2="485.10" stroke="#f6f6f6" stroke-width="0.45"/>
<line x1="504.37" y1="197.40" x2="504.37" y2="485.10" stroke="#f6f6f6" stroke-width="0.45"/>
<line x1="531.15" y1="197.40" x2="531.15" y2="485.10" stroke="#f6f6f6" stroke-width="0.45"/>
<line x1="410.60" y1="197.40" x2="410.60" y2="485.10" stroke="#ffffff" stroke-width="0.95"/>
<line x1="437.39" y1="197.40" x2="437.39" y2="485.10" stroke="#ffffff" stroke-width="0.95"/>
<line x1="464.18" y1="197.40" x2="464.18" y2="485.10" stroke="#ffffff" stroke-width="0.95"/>
<line x1="490.97" y1="197.40" x2="490.97" y2="485.10" stroke="#ffffff" stroke-width="0.95"/>
<line x1="517.76" y1="197.40" x2="517.76" y2="485.10" stroke="#ffffff" stroke-width="0.95"/>
<line x1="405.60" y1="200.30" x2="534.00" y2="200.30" stroke="#ffffff" stroke-width="1.25"/>
<line x1="405.60" y1="205.95" x2="534.00" y2="205.95" stroke="#ffffff" stroke-width="1.25"/>
<line x1="405.60" y1="211.60" x2="534.00" y2="211.60" stroke="#ffffff" stroke-width="1.25"/>
<line x1="405.60" y1="217.26" x2="534.00" y2="217.26" stroke="#ffffff" stroke-width="1.25"/>
<line x1="405.60" y1="222.91" x2="534.00" y2="222.91" stroke="#ffffff" stroke-width="1.25"/>
<line x1="405.60" y1="228.56" x2="534.00" y2="228.56" stroke="#ffffff" stroke-width="1.25"/>
<line x1="405.60" y1="234.21" x2="534.00" y2="234.21" stroke="#ffffff" stroke-width="1.25"/>
<line x1="405.60" y1="239.86" x2="534.00" y2="239.86" stroke="#ffffff" stroke-width="1.25"/>
<line x1="405.60" y1="245.52" x2="534.00" y2="245.52" stroke="#ffffff" stroke-width="1.25"/>
<line x1="405.60" y1="251.17" x2="534.00" y2="251.17" stroke="#ffffff" stroke-width="1.25"/>
<line x1="405.60" y1="256.82" x2="534.00" y2="256.82" stroke="#ffffff" stroke-width="1.25"/>
<line x1="405.60" y1="262.47" x2="534.00" y2="262.47" stroke="#ffffff" stroke-width="1.25"/>
<line x1="405.60" y1="268.12" x2="534.00" y2="268.12" stroke="#ffffff" stroke-width="1.25"/>
<line x1="405.60" y1="273.78" x2="534.00" y2="273.78" stroke="#ffffff" stroke-width="1.25"/>
<line x1="405.60" y1="279.43" x2="534.00" y2="279.43" stroke="#ffffff" stroke-width="1.25"/>
<line x1="405.60" y1="285.08" x2="534.00" y2="285.08" stroke="#ffffff" stroke-width="1.25"/>
<line x1="405.60" y1="290.73" x2="534.00" y2="290.73" stroke="#ffffff" stroke-width="1.25"/>
<line x1="405.60" y1="296.38" x2="534.00" y2="296.38" stroke="#ffffff" stroke-width="1.25"/>
<line x1="405.60" y1="302.04" x2="534.00" y2="302.04" stroke="#ffffff" stroke-width="1.25"/>
<line x1="405.60" y1="307.69" x2="534.00" y2="307.69" stroke="#ffffff" stroke-width="1.25"/>
<line x1="405.60" y1="313.34" x2="534.00" y2="313.34" stroke="#ffffff" stroke-width="1.25"/>
<line x1="405.60" y1="318.99" x2="534.00" y2="318.99" stroke="#ffffff" stroke-width="1.25"/>
<line x1="405.60" y1="324.64" x2="534.00" y2="324.64" stroke="#ffffff" stroke-width="1.25"/>
<line x1="405.60" y1="330.30" x2="534.00" y2="330.30" stroke="#ffffff" stroke-width="1.25"/>
<line x1="405.60" y1="335.95" x2="534.00" y2="335.95" stroke="#ffffff" stroke-width="1.25"/>
<line x1="405.60" y1="341.60" x2="534.00" y2="341.60" stroke="#ffffff" stroke-width="1.25"/>
<line x1="405.60" y1="347.25" x2="534.00" y2="347.25" stroke="#ffffff" stroke-width="1.25"/>
<line x1="405.60" y1="352.90" x2="534.00" y2="352.90" stroke="#ffffff" stroke-width="1.25"/>
<line x1="405.60" y1="358.56" x2="534.00" y2="358.56" stroke="#ffffff" stroke-width="1.25"/>
<line x1="405.60" y1="364.21" x2="534.00" y2="364.21" stroke="#ffffff" stroke-width="1.25"/>
<line x1="405.60" y1="369.86" x2="534.00" y2="369.86" stroke="#ffffff" stroke-width="1.25"/>
<line x1="405.60" y1="375.51" x2="534.00" y2="375.51" stroke="#ffffff" stroke-width="1.25"/>
<line x1="405.60" y1="381.16" x2="534.00" y2="381.16" stroke="#ffffff" stroke-width="1.25"/>
<line x1="405.60" y1="386.82" x2="534.00" y2="386.82" stroke="#ffffff" stroke-width="1.25"/>
<line x1="405.60" y1="392.47" x2="534.00" y2="392.47" stroke="#ffffff" stroke-width="1.25"/>
<line x1="405.60" y1="398.12" x2="534.00" y2="398.12" stroke="#ffffff" stroke-width="1.25"/>
<line x1="405.60" y1="403.77" x2="534.00" y2="403.77" stroke="#ffffff" stroke-width="1.25"/>
<line x1="405.60" y1="409.42" x2="534.00" y2="409.42" stroke="#ffffff" stroke-width="1.25"/>
<line x1="405.60" y1="415.08" x2="534.00" y2="415.08" stroke="#ffffff" stroke-width="1.25"/>
<line x1="405.60" y1="420.73" x2="534.00" y2="420.73" stroke="#ffffff" stroke-width="1.25"/>
<line x1="405.60" y1="426.38" x2="534.00" y2="426.38" stroke="#ffffff" stroke-width="1.25"/>
<line x1="405.60" y1="432.03" x2="534.00" y2="432.03" stroke="#ffffff" stroke-width="1.25"/>
<line x1="405.60" y1="437.68" x2="534.00" y2="437.68" stroke="#ffffff" stroke-width="1.25"/>
<line x1="405.60" y1="443.34" x2="534.00" y2="443.34" stroke="#ffffff" stroke-width="1.25"/>
<line x1="405.60" y1="448.99" x2="534.00" y2="448.99" stroke="#ffffff" stroke-width="1.25"/>
<line x1="405.60" y1="454.64" x2="534.00" y2="454.64" stroke="#ffffff" stroke-width="1.25"/>
<line x1="405.60" y1="460.29" x2="534.00" y2="460.29" stroke="#ffffff" stroke-width="1.25"/>
<line x1="405.60" y1="465.94" x2="534.00" y2="465.94" stroke="#ffffff" stroke-width="1.25"/>
<line x1="405.60" y1="471.60" x2="534.00" y2="471.60" stroke="#ffffff" stroke-width="1.25"/>
<line x1="405.60" y1="477.25" x2="534.00" y2="477.25" stroke="#ffffff" stroke-width="1.25"/>
<line x1="405.60" y1="482.90" x2="534.00" y2="482.90" stroke="#ffffff" stroke-width="1.25"/>
<text x="398.80" y="201.00" font-size="4.98" fill="#f08e94" text-anchor="end" transform="rotate(0.06 398.80 201.00)">renal system development</text>
<line x1="400.90" y1="200.30" x2="404.90" y2="200.30" stroke="#2b2b2b" stroke-width="1.1"/>
<circle cx="413.00" cy="200.30" r="1.20" fill="#c9975b"/>
<circle cx="415.50" cy="200.30" r="1.20" fill="#8ea946"/>
<circle cx="418.00" cy="200.30" r="1.20" fill="#2fab82"/>
<circle cx="419.80" cy="200.30" r="1.20" fill="#f552f0"/>
<circle cx="421.70" cy="200.30" r="1.20" fill="#1cb5f1"/>
<circle cx="430.30" cy="200.30" r="1.20" fill="#f2807f"/>
<text x="398.80" y="206.65" font-size="4.98" fill="#f08e94" text-anchor="end" transform="rotate(0.06 398.80 206.65)">cellular hypotonic response</text>
<line x1="400.90" y1="205.95" x2="404.90" y2="205.95" stroke="#2b2b2b" stroke-width="1.1"/>
<circle cx="410.40" cy="205.95" r="1.20" fill="#1cb5f1"/>
<circle cx="412.50" cy="205.95" r="1.20" fill="#f552f0"/>
<circle cx="414.70" cy="205.95" r="1.20" fill="#c9975b"/>
<circle cx="416.60" cy="205.95" r="1.20" fill="#f2807f"/>
<text x="398.80" y="212.30" font-size="4.98" fill="#f08e94" text-anchor="end" transform="rotate(0.06 398.80 212.30)">spleen development</text>
<line x1="400.90" y1="211.60" x2="404.90" y2="211.60" stroke="#2b2b2b" stroke-width="1.1"/>
<circle cx="413.60" cy="211.60" r="1.20" fill="#f552f0"/>
<circle cx="418.40" cy="211.60" r="1.20" fill="#2fab82"/>
<circle cx="420.30" cy="211.60" r="1.20" fill="#1cb5f1"/>
<circle cx="422.70" cy="211.60" r="1.20" fill="#c9975b"/>
<circle cx="424.90" cy="211.60" r="1.20" fill="#8c8cdb"/>
<circle cx="433.60" cy="211.60" r="1.20" fill="#8ea946"/>
<circle cx="514.40" cy="211.60" r="1.20" fill="#f2807f"/>
<text x="398.80" y="217.96" font-size="4.98" fill="#f08e94" text-anchor="end" transform="rotate(0.06 398.80 217.96)">response to muscle stretch</text>
<line x1="400.90" y1="217.26" x2="404.90" y2="217.26" stroke="#2b2b2b" stroke-width="1.1"/>
<circle cx="421.00" cy="217.26" r="1.20" fill="#f552f0"/>
<circle cx="423.00" cy="217.26" r="1.20" fill="#1cb5f1"/>
<circle cx="425.90" cy="217.26" r="1.20" fill="#c9975b"/>
<circle cx="428.80" cy="217.26" r="1.20" fill="#8ea946"/>
<circle cx="437.00" cy="217.26" r="1.20" fill="#2fab82"/>
<circle cx="447.70" cy="217.26" r="1.20" fill="#f2807f"/>
<text x="398.80" y="223.61" font-size="4.98" fill="#c7a06c" text-anchor="end" transform="rotate(0.06 398.80 223.61)">regulation of appetite</text>
<line x1="400.90" y1="222.91" x2="404.90" y2="222.91" stroke="#2b2b2b" stroke-width="1.1"/>
<circle cx="411.80" cy="222.91" r="1.20" fill="#1cb5f1"/>
<circle cx="415.90" cy="222.91" r="1.20" fill="#2fab82"/>
<circle cx="420.30" cy="222.91" r="1.20" fill="#f2807f"/>
<circle cx="422.00" cy="222.91" r="1.20" fill="#f552f0"/>
<circle cx="434.40" cy="222.91" r="1.20" fill="#c9975b"/>
<text x="398.80" y="229.26" font-size="4.98" fill="#c7a06c" text-anchor="end" transform="rotate(0.06 398.80 229.26)">blood circulation</text>
<line x1="400.90" y1="228.56" x2="404.90" y2="228.56" stroke="#2b2b2b" stroke-width="1.1"/>
<circle cx="411.80" cy="228.56" r="1.20" fill="#1cb5f1"/>
<circle cx="415.90" cy="228.56" r="1.20" fill="#2fab82"/>
<circle cx="420.30" cy="228.56" r="1.20" fill="#f2807f"/>
<circle cx="422.00" cy="228.56" r="1.20" fill="#f552f0"/>
<circle cx="434.40" cy="228.56" r="1.20" fill="#c9975b"/>
<text x="398.80" y="234.91" font-size="4.98" fill="#c7a06c" text-anchor="end" transform="rotate(0.06 398.80 234.91)">feeding behavior</text>
<line x1="400.90" y1="234.21" x2="404.90" y2="234.21" stroke="#2b2b2b" stroke-width="1.1"/>
<circle cx="411.80" cy="234.21" r="1.20" fill="#1cb5f1"/>
<circle cx="415.90" cy="234.21" r="1.20" fill="#2fab82"/>
<circle cx="420.30" cy="234.21" r="1.20" fill="#f2807f"/>
<circle cx="422.00" cy="234.21" r="1.20" fill="#f552f0"/>
<circle cx="434.40" cy="234.21" r="1.20" fill="#c9975b"/>
<text x="398.80" y="240.56" font-size="4.98" fill="#c7a06c" text-anchor="end" transform="rotate(0.06 398.80 240.56)">angiogenesis</text>
<line x1="400.90" y1="239.86" x2="404.90" y2="239.86" stroke="#2b2b2b" stroke-width="1.1"/>
<circle cx="415.20" cy="239.86" r="1.20" fill="#8c8cdb"/>
<circle cx="417.90" cy="239.86" r="1.20" fill="#2fab82"/>
<circle cx="420.30" cy="239.86" r="1.20" fill="#1cb5f1"/>
<circle cx="423.70" cy="239.86" r="1.20" fill="#f552f0"/>
<circle cx="432.60" cy="239.86" r="1.20" fill="#8ea946"/>
<circle cx="439.70" cy="239.86" r="1.20" fill="#c9975b"/>
<text x="398.80" y="246.22" font-size="4.98" fill="#38ab89" text-anchor="end" transform="rotate(0.06 398.80 246.22)">cellular response to acidic pH</text>
<line x1="400.90" y1="245.52" x2="404.90" y2="245.52" stroke="#2b2b2b" stroke-width="1.1"/>
<circle cx="412.70" cy="245.52" r="1.20" fill="#f2807f"/>
<circle cx="412.10" cy="245.52" r="1.20" fill="#c9975b"/>
<circle cx="413.60" cy="245.52" r="1.20" fill="#1cb5f1"/>
<circle cx="416.20" cy="245.52" r="1.20" fill="#8c8cdb"/>
<circle cx="427.10" cy="245.52" r="1.20" fill="#2fab82"/>
<text x="398.80" y="251.87" font-size="4.98" fill="#38ab89" text-anchor="end" transform="rotate(0.06 398.80 251.87)">negative regulation of phosphatase activity</text>
<line x1="400.90" y1="251.17" x2="404.90" y2="251.17" stroke="#2b2b2b" stroke-width="1.1"/>
<circle cx="411.80" cy="251.17" r="1.20" fill="#f552f0"/>
<circle cx="414.00" cy="251.17" r="1.20" fill="#1cb5f1"/>
<circle cx="416.50" cy="251.17" r="1.20" fill="#8c8cdb"/>
<circle cx="418.80" cy="251.17" r="1.20" fill="#2fab82"/>
<text x="398.80" y="257.52" font-size="4.98" fill="#38ab89" text-anchor="end" transform="rotate(0.06 398.80 257.52)">digestion</text>
<line x1="400.90" y1="256.82" x2="404.90" y2="256.82" stroke="#2b2b2b" stroke-width="1.1"/>
<circle cx="411.10" cy="256.82" r="1.20" fill="#1cb5f1"/>
<circle cx="413.00" cy="256.82" r="1.20" fill="#8c8cdb"/>
<circle cx="415.90" cy="256.82" r="1.20" fill="#8ea946"/>
<circle cx="420.30" cy="256.82" r="1.20" fill="#f552f0"/>
<circle cx="424.20" cy="256.82" r="1.20" fill="#c9975b"/>
<circle cx="432.90" cy="256.82" r="1.20" fill="#2fab82"/>
<text x="398.80" y="263.17" font-size="4.98" fill="#98ad5f" text-anchor="end" transform="rotate(0.06 398.80 263.17)">negative regulation of extrinsic apoptotic signaling pathway</text>
<line x1="400.90" y1="262.47" x2="404.90" y2="262.47" stroke="#2b2b2b" stroke-width="1.1"/>
<circle cx="423.20" cy="262.47" r="1.20" fill="#1cb5f1"/>
<circle cx="427.50" cy="262.47" r="1.20" fill="#8c8cdb"/>
<circle cx="431.50" cy="262.47" r="1.20" fill="#f552f0"/>
<circle cx="433.60" cy="262.47" r="1.20" fill="#c9975b"/>
<circle cx="450.40" cy="262.47" r="1.20" fill="#8ea946"/>
<text x="398.80" y="268.82" font-size="4.98" fill="#98ad5f" text-anchor="end" transform="rotate(0.06 398.80 268.82)">positive regulation of macrophage apoptotic process</text>
<line x1="400.90" y1="268.12" x2="404.90" y2="268.12" stroke="#2b2b2b" stroke-width="1.1"/>
<circle cx="411.80" cy="268.12" r="1.20" fill="#f552f0"/>
<circle cx="414.40" cy="268.12" r="1.20" fill="#8c8cdb"/>
<circle cx="415.90" cy="268.12" r="1.20" fill="#1cb5f1"/>
<circle cx="421.30" cy="268.12" r="1.20" fill="#f2807f"/>
<circle cx="430.40" cy="268.12" r="1.20" fill="#8ea946"/>
<text x="398.80" y="274.48" font-size="4.98" fill="#98ad5f" text-anchor="end" transform="rotate(0.06 398.80 274.48)">positive regulation of histone H3-K9 methylation</text>
<line x1="400.90" y1="273.78" x2="404.90" y2="273.78" stroke="#2b2b2b" stroke-width="1.1"/>
<circle cx="411.80" cy="273.78" r="1.20" fill="#f552f0"/>
<circle cx="414.40" cy="273.78" r="1.20" fill="#8c8cdb"/>
<circle cx="415.90" cy="273.78" r="1.20" fill="#1cb5f1"/>
<circle cx="421.30" cy="273.78" r="1.20" fill="#f2807f"/>
<circle cx="430.40" cy="273.78" r="1.20" fill="#8ea946"/>
<text x="398.80" y="280.13" font-size="4.98" fill="#98ad5f" text-anchor="end" transform="rotate(0.06 398.80 280.13)">neuromuscular process</text>
<line x1="400.90" y1="279.43" x2="404.90" y2="279.43" stroke="#2b2b2b" stroke-width="1.1"/>
<circle cx="419.50" cy="279.43" r="1.20" fill="#8c8cdb"/>
<circle cx="421.70" cy="279.43" r="1.20" fill="#2fab82"/>
<circle cx="424.20" cy="279.43" r="1.20" fill="#1cb5f1"/>
<circle cx="432.50" cy="279.43" r="1.20" fill="#f552f0"/>
<circle cx="433.90" cy="279.43" r="1.20" fill="#c9975b"/>
<circle cx="528.70" cy="279.43" r="1.20" fill="#8ea946"/>
<text x="398.80" y="285.78" font-size="4.98" fill="#98ad5f" text-anchor="end" transform="rotate(0.06 398.80 285.78)">anatomical structure formation involved in morphogenesis</text>
<line x1="400.90" y1="285.08" x2="404.90" y2="285.08" stroke="#2b2b2b" stroke-width="1.1"/>
<circle cx="419.40" cy="285.08" r="1.20" fill="#f552f0"/>
<circle cx="426.70" cy="285.08" r="1.20" fill="#f2807f"/>
<circle cx="429.30" cy="285.08" r="1.20" fill="#1cb5f1"/>
<circle cx="431.20" cy="285.08" r="1.20" fill="#8ea946"/>
<text x="398.80" y="291.43" font-size="4.98" fill="#98ad5f" text-anchor="end" transform="rotate(0.06 398.80 291.43)">NAD-dependent histone deacetylase activity (H3-K9 specific)</text>
<line x1="400.90" y1="290.73" x2="404.90" y2="290.73" stroke="#2b2b2b" stroke-width="1.1"/>
<circle cx="412.30" cy="290.73" r="1.20" fill="#8c8cdb"/>
<circle cx="413.60" cy="290.73" r="1.20" fill="#1cb5f1"/>
<circle cx="415.50" cy="290.73" r="1.20" fill="#f2807f"/>
<circle cx="424.20" cy="290.73" r="1.20" fill="#f552f0"/>
<circle cx="432.60" cy="290.73" r="1.20" fill="#c9975b"/>
<circle cx="434.70" cy="290.73" r="1.20" fill="#8ea946"/>
<text x="398.80" y="297.08" font-size="4.98" fill="#98ad5f" text-anchor="end" transform="rotate(0.06 398.80 297.08)">positive regulation of insulin receptor signaling pathway</text>
<line x1="400.90" y1="296.38" x2="404.90" y2="296.38" stroke="#2b2b2b" stroke-width="1.1"/>
<circle cx="411.80" cy="296.38" r="1.20" fill="#f552f0"/>
<circle cx="414.40" cy="296.38" r="1.20" fill="#8c8cdb"/>
<circle cx="415.90" cy="296.38" r="1.20" fill="#1cb5f1"/>
<circle cx="421.30" cy="296.38" r="1.20" fill="#f2807f"/>
<circle cx="430.40" cy="296.38" r="1.20" fill="#8ea946"/>
<text x="398.80" y="302.74" font-size="4.98" fill="#98ad5f" text-anchor="end" transform="rotate(0.06 398.80 302.74)">positive regulation of MHC class II biosynthetic process</text>
<line x1="400.90" y1="302.04" x2="404.90" y2="302.04" stroke="#2b2b2b" stroke-width="1.1"/>
<circle cx="411.80" cy="302.04" r="1.20" fill="#f552f0"/>
<circle cx="414.40" cy="302.04" r="1.20" fill="#8c8cdb"/>
<circle cx="415.90" cy="302.04" r="1.20" fill="#1cb5f1"/>
<circle cx="421.30" cy="302.04" r="1.20" fill="#f2807f"/>
<circle cx="430.40" cy="302.04" r="1.20" fill="#8ea946"/>
<text x="398.80" y="308.39" font-size="4.98" fill="#98ad5f" text-anchor="end" transform="rotate(0.06 398.80 308.39)">intrinsic apoptotic signaling pathway in response to DNA damage by p53 class mediator</text>
<line x1="400.90" y1="307.69" x2="404.90" y2="307.69" stroke="#2b2b2b" stroke-width="1.1"/>
<circle cx="411.80" cy="307.69" r="1.20" fill="#f552f0"/>
<circle cx="414.40" cy="307.69" r="1.20" fill="#8c8cdb"/>
<circle cx="415.90" cy="307.69" r="1.20" fill="#1cb5f1"/>
<circle cx="421.30" cy="307.69" r="1.20" fill="#f2807f"/>
<circle cx="430.40" cy="307.69" r="1.20" fill="#8ea946"/>
<text x="398.80" y="314.04" font-size="4.98" fill="#98ad5f" text-anchor="end" transform="rotate(0.06 398.80 314.04)">sensory perception of pain</text>
<line x1="400.90" y1="313.34" x2="404.90" y2="313.34" stroke="#2b2b2b" stroke-width="1.1"/>
<circle cx="415.90" cy="313.34" r="1.20" fill="#8c8cdb"/>
<circle cx="417.90" cy="313.34" r="1.20" fill="#f2807f"/>
<circle cx="421.70" cy="313.34" r="1.20" fill="#c9975b"/>
<circle cx="426.40" cy="313.34" r="1.20" fill="#2fab82"/>
<circle cx="428.30" cy="313.34" r="1.20" fill="#1cb5f1"/>
<circle cx="441.90" cy="313.34" r="1.20" fill="#f552f0"/>
<circle cx="470.70" cy="313.34" r="1.20" fill="#8ea946"/>
<text x="398.80" y="319.69" font-size="4.98" fill="#98ad5f" text-anchor="end" transform="rotate(0.06 398.80 319.69)">NAD-dependent histone deacetylase activity</text>
<line x1="400.90" y1="318.99" x2="404.90" y2="318.99" stroke="#2b2b2b" stroke-width="1.1"/>
<circle cx="413.00" cy="318.99" r="1.20" fill="#8c8cdb"/>
<circle cx="415.00" cy="318.99" r="1.20" fill="#1cb5f1"/>
<circle cx="417.90" cy="318.99" r="1.20" fill="#f2807f"/>
<circle cx="431.20" cy="318.99" r="1.20" fill="#f552f0"/>
<circle cx="443.50" cy="318.99" r="1.20" fill="#c9975b"/>
<circle cx="446.70" cy="318.99" r="1.20" fill="#8ea946"/>
<text x="398.80" y="325.34" font-size="4.98" fill="#98ad5f" text-anchor="end" transform="rotate(0.06 398.80 325.34)">histone deacetylation</text>
<line x1="400.90" y1="324.64" x2="404.90" y2="324.64" stroke="#2b2b2b" stroke-width="1.1"/>
<circle cx="412.10" cy="324.64" r="1.20" fill="#1cb5f1"/>
<circle cx="413.60" cy="324.64" r="1.20" fill="#8c8cdb"/>
<circle cx="415.20" cy="324.64" r="1.20" fill="#f2807f"/>
<circle cx="419.80" cy="324.64" r="1.20" fill="#f552f0"/>
<circle cx="424.90" cy="324.64" r="1.20" fill="#c9975b"/>
<circle cx="426.70" cy="324.64" r="1.20" fill="#8ea946"/>
<text x="398.80" y="331.00" font-size="4.98" fill="#98ad5f" text-anchor="end" transform="rotate(0.06 398.80 331.00)">death</text>
<line x1="400.90" y1="330.30" x2="404.90" y2="330.30" stroke="#2b2b2b" stroke-width="1.1"/>
<circle cx="418.80" cy="330.30" r="1.20" fill="#8c8cdb"/>
<circle cx="421.30" cy="330.30" r="1.20" fill="#c9975b"/>
<circle cx="423.90" cy="330.30" r="1.20" fill="#2fab82"/>
<circle cx="425.60" cy="330.30" r="1.20" fill="#f2807f"/>
<circle cx="426.80" cy="330.30" r="1.20" fill="#f552f0"/>
<circle cx="436.80" cy="330.30" r="1.20" fill="#1cb5f1"/>
<circle cx="454.00" cy="330.30" r="1.20" fill="#8ea946"/>
<text x="398.80" y="336.65" font-size="4.98" fill="#98ad5f" text-anchor="end" transform="rotate(0.06 398.80 336.65)">ERK1 and ERK2 cascade</text>
<line x1="400.90" y1="335.95" x2="404.90" y2="335.95" stroke="#2b2b2b" stroke-width="1.1"/>
<circle cx="410.80" cy="335.95" r="1.20" fill="#f2807f"/>
<circle cx="412.10" cy="335.95" r="1.20" fill="#1cb5f1"/>
<circle cx="415.00" cy="335.95" r="1.20" fill="#c9975b"/>
<circle cx="432.50" cy="335.95" r="1.20" fill="#8ea946"/>
<text x="398.80" y="342.30" font-size="4.98" fill="#98ad5f" text-anchor="end" transform="rotate(0.06 398.80 342.30)">response to radiation</text>
<line x1="400.90" y1="341.60" x2="404.90" y2="341.60" stroke="#2b2b2b" stroke-width="1.1"/>
<circle cx="415.90" cy="341.60" r="1.20" fill="#8c8cdb"/>
<circle cx="417.90" cy="341.60" r="1.20" fill="#f2807f"/>
<circle cx="421.70" cy="341.60" r="1.20" fill="#c9975b"/>
<circle cx="426.40" cy="341.60" r="1.20" fill="#2fab82"/>
<circle cx="428.30" cy="341.60" r="1.20" fill="#1cb5f1"/>
<circle cx="441.90" cy="341.60" r="1.20" fill="#f552f0"/>
<circle cx="470.70" cy="341.60" r="1.20" fill="#8ea946"/>
<text x="398.80" y="347.95" font-size="4.98" fill="#98ad5f" text-anchor="end" transform="rotate(0.06 398.80 347.95)">regulation of blood pressure</text>
<line x1="400.90" y1="347.25" x2="404.90" y2="347.25" stroke="#2b2b2b" stroke-width="1.1"/>
<circle cx="413.00" cy="347.25" r="1.20" fill="#8c8cdb"/>
<circle cx="414.40" cy="347.25" r="1.20" fill="#f2807f"/>
<circle cx="419.50" cy="347.25" r="1.20" fill="#1cb5f1"/>
<circle cx="424.20" cy="347.25" r="1.20" fill="#c9975b"/>
<circle cx="430.00" cy="347.25" r="1.20" fill="#f552f0"/>
<circle cx="459.80" cy="347.25" r="1.20" fill="#8ea946"/>
<text x="398.80" y="353.60" font-size="4.98" fill="#98ad5f" text-anchor="end" transform="rotate(0.06 398.80 353.60)">hedgehog receptor activity</text>
<line x1="400.90" y1="352.90" x2="404.90" y2="352.90" stroke="#2b2b2b" stroke-width="1.1"/>
<circle cx="415.90" cy="352.90" r="1.20" fill="#8c8cdb"/>
<circle cx="421.30" cy="352.90" r="1.20" fill="#f552f0"/>
<circle cx="426.10" cy="352.90" r="1.20" fill="#c9975b"/>
<circle cx="428.10" cy="352.90" r="1.20" fill="#2fab82"/>
<circle cx="432.90" cy="352.90" r="1.20" fill="#1cb5f1"/>
<circle cx="470.70" cy="352.90" r="1.20" fill="#8ea946"/>
<text x="398.80" y="359.26" font-size="4.98" fill="#98ad5f" text-anchor="end" transform="rotate(0.06 398.80 359.26)">inflammatory response</text>
<line x1="400.90" y1="358.56" x2="404.90" y2="358.56" stroke="#2b2b2b" stroke-width="1.1"/>
<circle cx="419.50" cy="358.56" r="1.20" fill="#8c8cdb"/>
<circle cx="421.30" cy="358.56" r="1.20" fill="#f2807f"/>
<circle cx="423.20" cy="358.56" r="1.20" fill="#1cb5f1"/>
<circle cx="428.30" cy="358.56" r="1.20" fill="#2fab82"/>
<circle cx="430.70" cy="358.56" r="1.20" fill="#c9975b"/>
<circle cx="437.00" cy="358.56" r="1.20" fill="#f552f0"/>
<circle cx="447.70" cy="358.56" r="1.20" fill="#8ea946"/>
<text x="398.80" y="364.91" font-size="4.98" fill="#98ad5f" text-anchor="end" transform="rotate(0.06 398.80 364.91)">respiratory system process</text>
<line x1="400.90" y1="364.21" x2="404.90" y2="364.21" stroke="#2b2b2b" stroke-width="1.1"/>
<circle cx="424.60" cy="364.21" r="1.20" fill="#1cb5f1"/>
<circle cx="428.50" cy="364.21" r="1.20" fill="#c9975b"/>
<circle cx="437.00" cy="364.21" r="1.20" fill="#f552f0"/>
<circle cx="498.40" cy="364.21" r="1.20" fill="#8ea946"/>
<text x="398.80" y="370.56" font-size="4.98" fill="#98ad5f" text-anchor="end" transform="rotate(0.06 398.80 370.56)">vasculature development</text>
<line x1="400.90" y1="369.86" x2="404.90" y2="369.86" stroke="#2b2b2b" stroke-width="1.1"/>
<circle cx="415.90" cy="369.86" r="1.20" fill="#8c8cdb"/>
<circle cx="421.30" cy="369.86" r="1.20" fill="#f552f0"/>
<circle cx="426.10" cy="369.86" r="1.20" fill="#c9975b"/>
<circle cx="428.10" cy="369.86" r="1.20" fill="#2fab82"/>
<circle cx="432.90" cy="369.86" r="1.20" fill="#1cb5f1"/>
<circle cx="470.70" cy="369.86" r="1.20" fill="#8ea946"/>
<text x="398.80" y="376.21" font-size="4.98" fill="#98ad5f" text-anchor="end" transform="rotate(0.06 398.80 376.21)">retinoid metabolic process</text>
<line x1="400.90" y1="375.51" x2="404.90" y2="375.51" stroke="#2b2b2b" stroke-width="1.1"/>
<circle cx="424.60" cy="375.51" r="1.20" fill="#1cb5f1"/>
<circle cx="428.50" cy="375.51" r="1.20" fill="#c9975b"/>
<circle cx="437.00" cy="375.51" r="1.20" fill="#f552f0"/>
<circle cx="498.40" cy="375.51" r="1.20" fill="#8ea946"/>
<text x="398.80" y="381.86" font-size="4.98" fill="#98ad5f" text-anchor="end" transform="rotate(0.06 398.80 381.86)">prostaglandin biosynthetic process</text>
<line x1="400.90" y1="381.16" x2="404.90" y2="381.16" stroke="#2b2b2b" stroke-width="1.1"/>
<circle cx="427.80" cy="381.16" r="1.20" fill="#2fab82"/>
<circle cx="431.20" cy="381.16" r="1.20" fill="#1cb5f1"/>
<circle cx="433.30" cy="381.16" r="1.20" fill="#f552f0"/>
<circle cx="464.50" cy="381.16" r="1.20" fill="#8ea946"/>
<text x="398.80" y="387.52" font-size="4.98" fill="#98ad5f" text-anchor="end" transform="rotate(0.06 398.80 387.52)">DNA synthesis involved in DNA repair</text>
<line x1="400.90" y1="386.82" x2="404.90" y2="386.82" stroke="#2b2b2b" stroke-width="1.1"/>
<circle cx="411.80" cy="386.82" r="1.20" fill="#f552f0"/>
<circle cx="414.40" cy="386.82" r="1.20" fill="#8c8cdb"/>
<circle cx="415.90" cy="386.82" r="1.20" fill="#1cb5f1"/>
<circle cx="421.30" cy="386.82" r="1.20" fill="#f2807f"/>
<circle cx="430.40" cy="386.82" r="1.20" fill="#8ea946"/>
<text x="398.80" y="393.17" font-size="4.98" fill="#36acd8" text-anchor="end" transform="rotate(0.06 398.80 393.17)">respiratory chain</text>
<line x1="400.90" y1="392.47" x2="404.90" y2="392.47" stroke="#2b2b2b" stroke-width="1.1"/>
<circle cx="421.70" cy="392.47" r="1.20" fill="#f2807f"/>
<circle cx="423.70" cy="392.47" r="1.20" fill="#8c8cdb"/>
<circle cx="428.10" cy="392.47" r="1.20" fill="#2fab82"/>
<circle cx="437.60" cy="392.47" r="1.20" fill="#c9975b"/>
<circle cx="450.10" cy="392.47" r="1.20" fill="#8ea946"/>
<circle cx="459.80" cy="392.47" r="1.20" fill="#f552f0"/>
<circle cx="461.30" cy="392.47" r="1.20" fill="#1cb5f1"/>
<text x="398.80" y="398.82" font-size="4.98" fill="#36acd8" text-anchor="end" transform="rotate(0.06 398.80 398.82)">regulation of gene expression, epigenetic</text>
<line x1="400.90" y1="398.12" x2="404.90" y2="398.12" stroke="#2b2b2b" stroke-width="1.1"/>
<circle cx="416.90" cy="398.12" r="1.20" fill="#f552f0"/>
<circle cx="422.30" cy="398.12" r="1.20" fill="#8c8cdb"/>
<circle cx="423.70" cy="398.12" r="1.20" fill="#c9975b"/>
<circle cx="429.60" cy="398.12" r="1.20" fill="#8ea946"/>
<circle cx="433.30" cy="398.12" r="1.20" fill="#f2807f"/>
<circle cx="451.80" cy="398.12" r="1.20" fill="#2fab82"/>
<circle cx="468.10" cy="398.12" r="1.20" fill="#1cb5f1"/>
<text x="398.80" y="404.47" font-size="4.98" fill="#36acd8" text-anchor="end" transform="rotate(0.06 398.80 404.47)">Ras GTPase binding</text>
<line x1="400.90" y1="403.77" x2="404.90" y2="403.77" stroke="#2b2b2b" stroke-width="1.1"/>
<circle cx="416.20" cy="403.77" r="1.20" fill="#8c8cdb"/>
<circle cx="419.10" cy="403.77" r="1.20" fill="#8ea946"/>
<circle cx="420.50" cy="403.77" r="1.20" fill="#f2807f"/>
<circle cx="424.90" cy="403.77" r="1.20" fill="#f552f0"/>
<circle cx="427.80" cy="403.77" r="1.20" fill="#c9975b"/>
<circle cx="438.30" cy="403.77" r="1.20" fill="#2fab82"/>
<circle cx="440.20" cy="403.77" r="1.20" fill="#1cb5f1"/>
<text x="398.80" y="410.12" font-size="4.98" fill="#36acd8" text-anchor="end" transform="rotate(0.06 398.80 410.12)">muscle organ development</text>
<line x1="400.90" y1="409.42" x2="404.90" y2="409.42" stroke="#2b2b2b" stroke-width="1.1"/>
<circle cx="413.60" cy="409.42" r="1.20" fill="#f552f0"/>
<circle cx="416.20" cy="409.42" r="1.20" fill="#c9975b"/>
<circle cx="418.40" cy="409.42" r="1.20" fill="#f2807f"/>
<circle cx="422.30" cy="409.42" r="1.20" fill="#8ea946"/>
<circle cx="424.60" cy="409.42" r="1.20" fill="#1cb5f1"/>
<text x="398.80" y="415.78" font-size="4.98" fill="#9495d2" text-anchor="end" transform="rotate(0.06 398.80 415.78)">neuromuscular process controlling posture</text>
<line x1="400.90" y1="415.08" x2="404.90" y2="415.08" stroke="#2b2b2b" stroke-width="1.1"/>
<circle cx="422.00" cy="415.08" r="1.20" fill="#1cb5f1"/>
<circle cx="426.70" cy="415.08" r="1.20" fill="#f552f0"/>
<circle cx="430.30" cy="415.08" r="1.20" fill="#c9975b"/>
<circle cx="451.10" cy="415.08" r="1.20" fill="#8ea946"/>
<circle cx="453.60" cy="415.08" r="1.20" fill="#8c8cdb"/>
<text x="398.80" y="421.43" font-size="4.98" fill="#9495d2" text-anchor="end" transform="rotate(0.06 398.80 421.43)">potassium ion transport</text>
<line x1="400.90" y1="420.73" x2="404.90" y2="420.73" stroke="#2b2b2b" stroke-width="1.1"/>
<circle cx="412.30" cy="420.73" r="1.20" fill="#c9975b"/>
<circle cx="418.10" cy="420.73" r="1.20" fill="#f552f0"/>
<circle cx="419.50" cy="420.73" r="1.20" fill="#f2807f"/>
<circle cx="422.00" cy="420.73" r="1.20" fill="#1cb5f1"/>
<circle cx="423.50" cy="420.73" r="1.20" fill="#2fab82"/>
<circle cx="425.20" cy="420.73" r="1.20" fill="#8c8cdb"/>
<text x="398.80" y="427.08" font-size="4.98" fill="#9495d2" text-anchor="end" transform="rotate(0.06 398.80 427.08)">heart morphogenesis</text>
<line x1="400.90" y1="426.38" x2="404.90" y2="426.38" stroke="#2b2b2b" stroke-width="1.1"/>
<circle cx="423.50" cy="426.38" r="1.20" fill="#1cb5f1"/>
<circle cx="425.60" cy="426.38" r="1.20" fill="#f2807f"/>
<circle cx="429.60" cy="426.38" r="1.20" fill="#2fab82"/>
<circle cx="432.90" cy="426.38" r="1.20" fill="#8ea946"/>
<circle cx="458.10" cy="426.38" r="1.20" fill="#8c8cdb"/>
<text x="398.80" y="432.73" font-size="4.98" fill="#9495d2" text-anchor="end" transform="rotate(0.06 398.80 432.73)">diaphragm contraction</text>
<line x1="400.90" y1="432.03" x2="404.90" y2="432.03" stroke="#2b2b2b" stroke-width="1.1"/>
<circle cx="422.00" cy="432.03" r="1.20" fill="#c9975b"/>
<circle cx="423.70" cy="432.03" r="1.20" fill="#f552f0"/>
<circle cx="425.20" cy="432.03" r="1.20" fill="#1cb5f1"/>
<circle cx="428.10" cy="432.03" r="1.20" fill="#2fab82"/>
<circle cx="432.50" cy="432.03" r="1.20" fill="#8ea946"/>
<circle cx="455.50" cy="432.03" r="1.20" fill="#8c8cdb"/>
<text x="398.80" y="438.38" font-size="4.98" fill="#9495d2" text-anchor="end" transform="rotate(0.06 398.80 438.38)">regulation of the force of heart contraction</text>
<line x1="400.90" y1="437.68" x2="404.90" y2="437.68" stroke="#2b2b2b" stroke-width="1.1"/>
<circle cx="430.30" cy="437.68" r="1.20" fill="#c9975b"/>
<circle cx="431.70" cy="437.68" r="1.20" fill="#f2807f"/>
<circle cx="433.30" cy="437.68" r="1.20" fill="#1cb5f1"/>
<circle cx="435.80" cy="437.68" r="1.20" fill="#f552f0"/>
<circle cx="446.00" cy="437.68" r="1.20" fill="#8ea946"/>
<circle cx="448.50" cy="437.68" r="1.20" fill="#8c8cdb"/>
<text x="398.80" y="444.04" font-size="4.98" fill="#ec6ae8" text-anchor="end" transform="rotate(0.06 398.80 444.04)">response to ethanol</text>
<line x1="400.90" y1="443.34" x2="404.90" y2="443.34" stroke="#2b2b2b" stroke-width="1.1"/>
<circle cx="416.60" cy="443.34" r="1.20" fill="#1cb5f1"/>
<circle cx="419.80" cy="443.34" r="1.20" fill="#2fab82"/>
<circle cx="421.30" cy="443.34" r="1.20" fill="#f2807f"/>
<circle cx="426.10" cy="443.34" r="1.20" fill="#8c8cdb"/>
<circle cx="449.60" cy="443.34" r="1.20" fill="#f552f0"/>
<text x="398.80" y="449.69" font-size="4.98" fill="#ec6ae8" text-anchor="end" transform="rotate(0.06 398.80 449.69)">response to insulin</text>
<line x1="400.90" y1="448.99" x2="404.90" y2="448.99" stroke="#2b2b2b" stroke-width="1.1"/>
<circle cx="415.00" cy="448.99" r="1.20" fill="#8c8cdb"/>
<circle cx="423.00" cy="448.99" r="1.20" fill="#8ea946"/>
<circle cx="426.80" cy="448.99" r="1.20" fill="#2fab82"/>
<circle cx="428.10" cy="448.99" r="1.20" fill="#1cb5f1"/>
<circle cx="472.90" cy="448.99" r="1.20" fill="#f2807f"/>
<circle cx="503.00" cy="448.99" r="1.20" fill="#f552f0"/>
<text x="398.80" y="455.34" font-size="4.98" fill="#ec6ae8" text-anchor="end" transform="rotate(0.06 398.80 455.34)">adrenergic receptor binding</text>
<line x1="400.90" y1="454.64" x2="404.90" y2="454.64" stroke="#2b2b2b" stroke-width="1.1"/>
<circle cx="418.40" cy="454.64" r="1.20" fill="#8ea946"/>
<circle cx="420.10" cy="454.64" r="1.20" fill="#2fab82"/>
<circle cx="422.30" cy="454.64" r="1.20" fill="#f2807f"/>
<circle cx="427.80" cy="454.64" r="1.20" fill="#1cb5f1"/>
<circle cx="434.40" cy="454.64" r="1.20" fill="#8c8cdb"/>
<circle cx="439.50" cy="454.64" r="1.20" fill="#f552f0"/>
<text x="398.80" y="460.99" font-size="4.98" fill="#ec6ae8" text-anchor="end" transform="rotate(0.06 398.80 460.99)">response to toxic substance</text>
<line x1="400.90" y1="460.29" x2="404.90" y2="460.29" stroke="#2b2b2b" stroke-width="1.1"/>
<circle cx="419.50" cy="460.29" r="1.20" fill="#2fab82"/>
<circle cx="421.60" cy="460.29" r="1.20" fill="#f2807f"/>
<circle cx="423.50" cy="460.29" r="1.20" fill="#1cb5f1"/>
<circle cx="426.70" cy="460.29" r="1.20" fill="#8ea946"/>
<circle cx="447.70" cy="460.29" r="1.20" fill="#f552f0"/>
<text x="398.80" y="466.64" font-size="4.98" fill="#ec6ae8" text-anchor="end" transform="rotate(0.06 398.80 466.64)">cholesterol biosynthetic process</text>
<line x1="400.90" y1="465.94" x2="404.90" y2="465.94" stroke="#2b2b2b" stroke-width="1.1"/>
<circle cx="423.70" cy="465.94" r="1.20" fill="#8ea946"/>
<circle cx="430.00" cy="465.94" r="1.20" fill="#1cb5f1"/>
<circle cx="434.70" cy="465.94" r="1.20" fill="#c9975b"/>
<circle cx="435.80" cy="465.94" r="1.20" fill="#f2807f"/>
<circle cx="443.40" cy="465.94" r="1.20" fill="#f552f0"/>
<text x="398.80" y="472.30" font-size="4.98" fill="#ec6ae8" text-anchor="end" transform="rotate(0.06 398.80 472.30)">unsaturated fatty acid biosynthetic process</text>
<line x1="400.90" y1="471.60" x2="404.90" y2="471.60" stroke="#2b2b2b" stroke-width="1.1"/>
<circle cx="421.70" cy="471.60" r="1.20" fill="#1cb5f1"/>
<circle cx="428.10" cy="471.60" r="1.20" fill="#8ea946"/>
<circle cx="431.90" cy="471.60" r="1.20" fill="#2fab82"/>
<circle cx="449.90" cy="471.60" r="1.20" fill="#8c8cdb"/>
<circle cx="518.20" cy="471.60" r="1.20" fill="#f552f0"/>
<text x="398.80" y="477.95" font-size="4.98" fill="#ec6ae8" text-anchor="end" transform="rotate(0.06 398.80 477.95)">glucose metabolic process</text>
<line x1="400.90" y1="477.25" x2="404.90" y2="477.25" stroke="#2b2b2b" stroke-width="1.1"/>
<circle cx="430.70" cy="477.25" r="1.20" fill="#1cb5f1"/>
<circle cx="432.20" cy="477.25" r="1.20" fill="#2fab82"/>
<circle cx="437.00" cy="477.25" r="1.20" fill="#8c8cdb"/>
<circle cx="439.20" cy="477.25" r="1.20" fill="#f2807f"/>
<circle cx="441.90" cy="477.25" r="1.20" fill="#8ea946"/>
<circle cx="466.80" cy="477.25" r="1.20" fill="#f552f0"/>
<text x="398.80" y="483.60" font-size="4.98" fill="#ec6ae8" text-anchor="end" transform="rotate(0.06 398.80 483.60)">aldehyde dehydrogenase (NAD) activity</text>
<line x1="400.90" y1="482.90" x2="404.90" y2="482.90" stroke="#2b2b2b" stroke-width="1.1"/>
<circle cx="429.70" cy="482.90" r="1.20" fill="#f2807f"/>
<circle cx="432.90" cy="482.90" r="1.20" fill="#1cb5f1"/>
<circle cx="435.10" cy="482.90" r="1.20" fill="#2fab82"/>
<circle cx="442.70" cy="482.90" r="1.20" fill="#8ea946"/>
<circle cx="445.30" cy="482.90" r="1.20" fill="#8c8cdb"/>
<circle cx="447.50" cy="482.90" r="1.20" fill="#f552f0"/>
<line x1="410.60" y1="485.10" x2="410.60" y2="489.30" stroke="#333" stroke-width="0.8"/>
<text x="410.60" y="498.30" font-size="7.9" fill="#868686" text-anchor="middle" transform="rotate(0.03 410.60 498.30)">0.0</text>
<line x1="437.39" y1="485.10" x2="437.39" y2="489.30" stroke="#333" stroke-width="0.8"/>
<text x="437.39" y="498.30" font-size="7.9" fill="#868686" text-anchor="middle" transform="rotate(0.03 437.39 498.30)">0.1</text>
<line x1="464.18" y1="485.10" x2="464.18" y2="489.30" stroke="#333" stroke-width="0.8"/>
<text x="464.18" y="498.30" font-size="7.9" fill="#868686" text-anchor="middle" transform="rotate(0.03 464.18 498.30)">0.2</text>
<line x1="490.97" y1="485.10" x2="490.97" y2="489.30" stroke="#333" stroke-width="0.8"/>
<text x="490.97" y="498.30" font-size="7.9" fill="#868686" text-anchor="middle" transform="rotate(0.03 490.97 498.30)">0.3</text>
<line x1="517.76" y1="485.10" x2="517.76" y2="489.30" stroke="#333" stroke-width="0.8"/>
<text x="517.76" y="498.30" font-size="7.9" fill="#868686" text-anchor="middle" transform="rotate(0.03 517.76 498.30)">0.4</text>
<text x="463.00" y="509.20" font-size="10.4" fill="#111" text-anchor="middle" transform="rotate(0.03 463.00 509.20)">dN/dS</text>
<text x="236.20" y="335.60" font-size="8.65" fill="#111" font-weight="bold" transform="rotate(0.03 236.20 335.60)">Groups</text>
<rect x="236.80" y="340.40" width="13.70" height="13.90" fill="#f0f0f0"/>
<circle cx="243.90" cy="347.40" r="1.85" fill="#8c8cdb"/>
<text x="253.00" y="350.50" font-size="9.0" fill="#111" transform="rotate(0.03 253.00 350.50)">Birds</text>
<rect x="236.80" y="355.62" width="13.70" height="13.90" fill="#f0f0f0"/>
<circle cx="243.90" cy="362.62" r="1.85" fill="#c9975b"/>
<text x="253.00" y="365.72" font-size="9.0" fill="#111" transform="rotate(0.03 253.00 365.72)">Caecilian</text>
<rect x="236.80" y="370.84" width="13.70" height="13.90" fill="#f0f0f0"/>
<circle cx="243.90" cy="377.84" r="1.85" fill="#8ea946"/>
<text x="253.00" y="380.94" font-size="9.0" fill="#111" transform="rotate(0.03 253.00 380.94)">Salamanders</text>
<rect x="236.80" y="386.06" width="13.70" height="13.90" fill="#f0f0f0"/>
<circle cx="243.90" cy="393.06" r="1.85" fill="#2fab82"/>
<text x="253.00" y="396.16" font-size="9.0" fill="#111" transform="rotate(0.03 253.00 396.16)">Frogs</text>
<rect x="236.80" y="401.28" width="13.70" height="13.90" fill="#f0f0f0"/>
<circle cx="243.90" cy="408.28" r="1.85" fill="#f2807f"/>
<text x="253.00" y="411.38" font-size="9.0" fill="#111" transform="rotate(0.03 253.00 411.38)">Fishes</text>
<rect x="236.80" y="416.50" width="13.70" height="13.90" fill="#f0f0f0"/>
<circle cx="243.90" cy="423.50" r="1.85" fill="#f552f0"/>
<text x="253.00" y="426.60" font-size="9.0" fill="#111" transform="rotate(0.03 253.00 426.60)">Mammals</text>
<rect x="236.80" y="431.72" width="13.70" height="13.90" fill="#f0f0f0"/>
<circle cx="243.90" cy="438.72" r="1.85" fill="#1cb5f1"/>
<text x="253.00" y="441.82" font-size="9.0" fill="#111" transform="rotate(0.03 253.00 441.82)">Reptiles</text>
</g>
</svg>
</body></html>
